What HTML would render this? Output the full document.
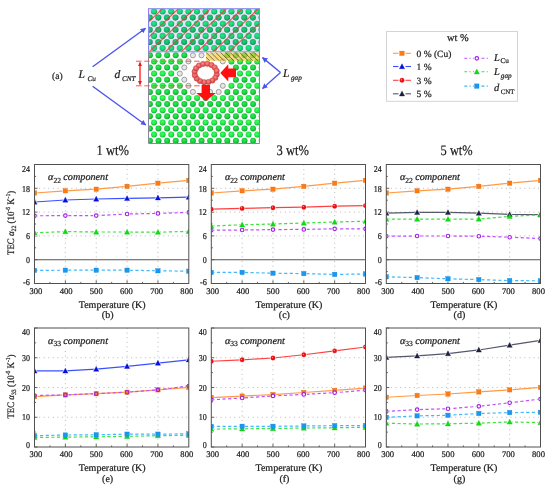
<!DOCTYPE html><html><head><meta charset="utf-8"><style>html,body{margin:0;padding:0;background:#fff;width:550px;height:489px;overflow:hidden;}svg{display:block;will-change:transform;} text{stroke:#222;stroke-width:0.22px;text-rendering:geometricPrecision;}</style></head><body>
<svg width="550" height="489" viewBox="0 0 550 489" font-family='"Liberation Serif", serif' fill="#1a1a1a">
<defs><clipPath id="cf"><rect x="148.5" y="8.7" width="111" height="134.8"/></clipPath><clipPath id="ct"><rect x="148.5" y="8.7" width="111" height="43.1"/></clipPath><radialGradient id="gg" cx="0.45" cy="0.4" r="0.6"><stop offset="0" stop-color="#40ff60"/><stop offset="0.65" stop-color="#1ee844"/><stop offset="1" stop-color="#10a830"/></radialGradient><radialGradient id="gd" cx="0.45" cy="0.4" r="0.6"><stop offset="0" stop-color="#2cec50"/><stop offset="0.65" stop-color="#16cc3c"/><stop offset="1" stop-color="#0c9a2a"/></radialGradient><radialGradient id="gt" cx="0.45" cy="0.4" r="0.6"><stop offset="0" stop-color="#22ea84"/><stop offset="0.65" stop-color="#16d074"/><stop offset="1" stop-color="#0c9452"/></radialGradient><radialGradient id="gt2" cx="0.45" cy="0.4" r="0.6"><stop offset="0" stop-color="#1cd07a"/><stop offset="0.65" stop-color="#12b466"/><stop offset="1" stop-color="#0a8048"/></radialGradient><radialGradient id="gy" cx="0.45" cy="0.4" r="0.6"><stop offset="0" stop-color="#f2f2f2"/><stop offset="0.6" stop-color="#dcdcdc"/><stop offset="0.85" stop-color="#a8a8a8"/><stop offset="1" stop-color="#8a8a8a"/></radialGradient><radialGradient id="gr" cx="0.45" cy="0.4" r="0.6"><stop offset="0" stop-color="#ff8c8c"/><stop offset="0.6" stop-color="#ea5a5a"/><stop offset="1" stop-color="#b83a3a"/></radialGradient><marker id="ab" viewBox="0 0 10 10" refX="9" refY="5" markerWidth="3.9" markerHeight="3.9" orient="auto"><path d="M0 0L10 5L0 10z" fill="#4a55f0"/></marker><marker id="ar" viewBox="0 0 10 10" refX="9" refY="5" markerWidth="3.2" markerHeight="3.6" orient="auto-start-reverse"><path d="M0 0L10 5L0 10z" fill="#ff1010"/></marker></defs>
<g clip-path="url(#cf)">
<rect x="148.5" y="8.7" width="111" height="134.8" fill="#fff"/>
<circle cx="149.9" cy="55.3" r="3" fill="url(#gd)"/><circle cx="158.5" cy="55.3" r="3" fill="url(#gd)"/><circle cx="167.1" cy="55.3" r="3" fill="url(#gd)"/><circle cx="175.7" cy="55.3" r="3" fill="url(#gd)"/><circle cx="184.3" cy="55.3" r="3" fill="url(#gd)"/><circle cx="192.9" cy="55.3" r="2.55" fill="#e6e6e6" stroke="#8c8c8c" stroke-width="0.8"/><circle cx="201.5" cy="55.3" r="2.55" fill="#e6e6e6" stroke="#8c8c8c" stroke-width="0.8"/><circle cx="227.3" cy="55.3" r="3" fill="url(#gd)"/><circle cx="235.9" cy="55.3" r="3" fill="url(#gd)"/><circle cx="244.5" cy="55.3" r="3" fill="url(#gd)"/><circle cx="253.1" cy="55.3" r="3" fill="url(#gd)"/><circle cx="261.7" cy="55.3" r="3" fill="url(#gd)"/><circle cx="154" cy="61.4" r="3" fill="url(#gg)"/><circle cx="162.6" cy="61.4" r="3" fill="url(#gg)"/><circle cx="171.2" cy="61.4" r="3" fill="url(#gg)"/><circle cx="179.8" cy="61.4" r="3" fill="url(#gg)"/><circle cx="188.4" cy="61.4" r="2.55" fill="#e6e6e6" stroke="#8c8c8c" stroke-width="0.8"/><circle cx="222.8" cy="61.4" r="2.55" fill="#e6e6e6" stroke="#8c8c8c" stroke-width="0.8"/><circle cx="231.4" cy="61.4" r="3" fill="url(#gg)"/><circle cx="240" cy="61.4" r="3" fill="url(#gg)"/><circle cx="248.6" cy="61.4" r="3" fill="url(#gg)"/><circle cx="257.2" cy="61.4" r="3" fill="url(#gg)"/><circle cx="265.8" cy="61.4" r="3" fill="url(#gg)"/><circle cx="149.9" cy="67.5" r="3" fill="url(#gd)"/><circle cx="158.5" cy="67.5" r="3" fill="url(#gd)"/><circle cx="167.1" cy="67.5" r="3" fill="url(#gd)"/><circle cx="175.7" cy="67.5" r="3" fill="url(#gd)"/><circle cx="184.3" cy="67.5" r="2.55" fill="#e6e6e6" stroke="#8c8c8c" stroke-width="0.8"/><circle cx="235.9" cy="67.5" r="3" fill="url(#gd)"/><circle cx="244.5" cy="67.5" r="3" fill="url(#gd)"/><circle cx="253.1" cy="67.5" r="3" fill="url(#gd)"/><circle cx="261.7" cy="67.5" r="3" fill="url(#gd)"/><circle cx="154" cy="73.6" r="3" fill="url(#gg)"/><circle cx="162.6" cy="73.6" r="3" fill="url(#gg)"/><circle cx="171.2" cy="73.6" r="3" fill="url(#gg)"/><circle cx="179.8" cy="73.6" r="2.55" fill="#e6e6e6" stroke="#8c8c8c" stroke-width="0.8"/><circle cx="240" cy="73.6" r="3" fill="url(#gg)"/><circle cx="248.6" cy="73.6" r="3" fill="url(#gg)"/><circle cx="257.2" cy="73.6" r="3" fill="url(#gg)"/><circle cx="265.8" cy="73.6" r="3" fill="url(#gg)"/><circle cx="149.9" cy="79.7" r="3" fill="url(#gd)"/><circle cx="158.5" cy="79.7" r="3" fill="url(#gd)"/><circle cx="167.1" cy="79.7" r="3" fill="url(#gd)"/><circle cx="175.7" cy="79.7" r="3" fill="url(#gd)"/><circle cx="184.3" cy="79.7" r="2.55" fill="#e6e6e6" stroke="#8c8c8c" stroke-width="0.8"/><circle cx="235.9" cy="79.7" r="3" fill="url(#gd)"/><circle cx="244.5" cy="79.7" r="3" fill="url(#gd)"/><circle cx="253.1" cy="79.7" r="3" fill="url(#gd)"/><circle cx="261.7" cy="79.7" r="3" fill="url(#gd)"/><circle cx="154" cy="85.8" r="3" fill="url(#gg)"/><circle cx="162.6" cy="85.8" r="3" fill="url(#gg)"/><circle cx="171.2" cy="85.8" r="3" fill="url(#gg)"/><circle cx="179.8" cy="85.8" r="3" fill="url(#gg)"/><circle cx="188.4" cy="85.8" r="2.55" fill="#e6e6e6" stroke="#8c8c8c" stroke-width="0.8"/><circle cx="222.8" cy="85.8" r="2.55" fill="#e6e6e6" stroke="#8c8c8c" stroke-width="0.8"/><circle cx="231.4" cy="85.8" r="3" fill="url(#gg)"/><circle cx="240" cy="85.8" r="3" fill="url(#gg)"/><circle cx="248.6" cy="85.8" r="3" fill="url(#gg)"/><circle cx="257.2" cy="85.8" r="3" fill="url(#gg)"/><circle cx="265.8" cy="85.8" r="3" fill="url(#gg)"/><circle cx="149.9" cy="91.9" r="3" fill="url(#gd)"/><circle cx="158.5" cy="91.9" r="3" fill="url(#gd)"/><circle cx="167.1" cy="91.9" r="3" fill="url(#gd)"/><circle cx="175.7" cy="91.9" r="3" fill="url(#gd)"/><circle cx="184.3" cy="91.9" r="3" fill="url(#gd)"/><circle cx="192.9" cy="91.9" r="2.55" fill="#e6e6e6" stroke="#8c8c8c" stroke-width="0.8"/><circle cx="210.1" cy="91.9" r="2.55" fill="#e6e6e6" stroke="#8c8c8c" stroke-width="0.8"/><circle cx="218.7" cy="91.9" r="2.55" fill="#e6e6e6" stroke="#8c8c8c" stroke-width="0.8"/><circle cx="227.3" cy="91.9" r="3" fill="url(#gd)"/><circle cx="235.9" cy="91.9" r="3" fill="url(#gd)"/><circle cx="244.5" cy="91.9" r="3" fill="url(#gd)"/><circle cx="253.1" cy="91.9" r="3" fill="url(#gd)"/><circle cx="261.7" cy="91.9" r="3" fill="url(#gd)"/><circle cx="154" cy="98" r="3" fill="url(#gg)"/><circle cx="162.6" cy="98" r="3" fill="url(#gg)"/><circle cx="171.2" cy="98" r="3" fill="url(#gg)"/><circle cx="179.8" cy="98" r="3" fill="url(#gg)"/><circle cx="188.4" cy="98" r="3" fill="url(#gg)"/><circle cx="197" cy="98" r="3" fill="url(#gg)"/><circle cx="205.6" cy="98" r="3" fill="url(#gg)"/><circle cx="214.2" cy="98" r="3" fill="url(#gg)"/><circle cx="222.8" cy="98" r="3" fill="url(#gg)"/><circle cx="231.4" cy="98" r="3" fill="url(#gg)"/><circle cx="240" cy="98" r="3" fill="url(#gg)"/><circle cx="248.6" cy="98" r="3" fill="url(#gg)"/><circle cx="257.2" cy="98" r="3" fill="url(#gg)"/><circle cx="265.8" cy="98" r="3" fill="url(#gg)"/><circle cx="149.9" cy="104.1" r="3" fill="url(#gd)"/><circle cx="158.5" cy="104.1" r="3" fill="url(#gd)"/><circle cx="167.1" cy="104.1" r="3" fill="url(#gd)"/><circle cx="175.7" cy="104.1" r="3" fill="url(#gd)"/><circle cx="184.3" cy="104.1" r="3" fill="url(#gd)"/><circle cx="192.9" cy="104.1" r="3" fill="url(#gd)"/><circle cx="201.5" cy="104.1" r="3" fill="url(#gd)"/><circle cx="210.1" cy="104.1" r="3" fill="url(#gd)"/><circle cx="218.7" cy="104.1" r="3" fill="url(#gd)"/><circle cx="227.3" cy="104.1" r="3" fill="url(#gd)"/><circle cx="235.9" cy="104.1" r="3" fill="url(#gd)"/><circle cx="244.5" cy="104.1" r="3" fill="url(#gd)"/><circle cx="253.1" cy="104.1" r="3" fill="url(#gd)"/><circle cx="261.7" cy="104.1" r="3" fill="url(#gd)"/><circle cx="154" cy="110.2" r="3" fill="url(#gg)"/><circle cx="162.6" cy="110.2" r="3" fill="url(#gg)"/><circle cx="171.2" cy="110.2" r="3" fill="url(#gg)"/><circle cx="179.8" cy="110.2" r="3" fill="url(#gg)"/><circle cx="188.4" cy="110.2" r="3" fill="url(#gg)"/><circle cx="197" cy="110.2" r="3" fill="url(#gg)"/><circle cx="205.6" cy="110.2" r="3" fill="url(#gg)"/><circle cx="214.2" cy="110.2" r="3" fill="url(#gg)"/><circle cx="222.8" cy="110.2" r="3" fill="url(#gg)"/><circle cx="231.4" cy="110.2" r="3" fill="url(#gg)"/><circle cx="240" cy="110.2" r="3" fill="url(#gg)"/><circle cx="248.6" cy="110.2" r="3" fill="url(#gg)"/><circle cx="257.2" cy="110.2" r="3" fill="url(#gg)"/><circle cx="265.8" cy="110.2" r="3" fill="url(#gg)"/><circle cx="149.9" cy="116.3" r="3" fill="url(#gd)"/><circle cx="158.5" cy="116.3" r="3" fill="url(#gd)"/><circle cx="167.1" cy="116.3" r="3" fill="url(#gd)"/><circle cx="175.7" cy="116.3" r="3" fill="url(#gd)"/><circle cx="184.3" cy="116.3" r="3" fill="url(#gd)"/><circle cx="192.9" cy="116.3" r="3" fill="url(#gd)"/><circle cx="201.5" cy="116.3" r="3" fill="url(#gd)"/><circle cx="210.1" cy="116.3" r="3" fill="url(#gd)"/><circle cx="218.7" cy="116.3" r="3" fill="url(#gd)"/><circle cx="227.3" cy="116.3" r="3" fill="url(#gd)"/><circle cx="235.9" cy="116.3" r="3" fill="url(#gd)"/><circle cx="244.5" cy="116.3" r="3" fill="url(#gd)"/><circle cx="253.1" cy="116.3" r="3" fill="url(#gd)"/><circle cx="261.7" cy="116.3" r="3" fill="url(#gd)"/><circle cx="154" cy="122.4" r="3" fill="url(#gg)"/><circle cx="162.6" cy="122.4" r="3" fill="url(#gg)"/><circle cx="171.2" cy="122.4" r="3" fill="url(#gg)"/><circle cx="179.8" cy="122.4" r="3" fill="url(#gg)"/><circle cx="188.4" cy="122.4" r="3" fill="url(#gg)"/><circle cx="197" cy="122.4" r="3" fill="url(#gg)"/><circle cx="205.6" cy="122.4" r="3" fill="url(#gg)"/><circle cx="214.2" cy="122.4" r="3" fill="url(#gg)"/><circle cx="222.8" cy="122.4" r="3" fill="url(#gg)"/><circle cx="231.4" cy="122.4" r="3" fill="url(#gg)"/><circle cx="240" cy="122.4" r="3" fill="url(#gg)"/><circle cx="248.6" cy="122.4" r="3" fill="url(#gg)"/><circle cx="257.2" cy="122.4" r="3" fill="url(#gg)"/><circle cx="265.8" cy="122.4" r="3" fill="url(#gg)"/><circle cx="149.9" cy="128.5" r="3" fill="url(#gd)"/><circle cx="158.5" cy="128.5" r="3" fill="url(#gd)"/><circle cx="167.1" cy="128.5" r="3" fill="url(#gd)"/><circle cx="175.7" cy="128.5" r="3" fill="url(#gd)"/><circle cx="184.3" cy="128.5" r="3" fill="url(#gd)"/><circle cx="192.9" cy="128.5" r="3" fill="url(#gd)"/><circle cx="201.5" cy="128.5" r="3" fill="url(#gd)"/><circle cx="210.1" cy="128.5" r="3" fill="url(#gd)"/><circle cx="218.7" cy="128.5" r="3" fill="url(#gd)"/><circle cx="227.3" cy="128.5" r="3" fill="url(#gd)"/><circle cx="235.9" cy="128.5" r="3" fill="url(#gd)"/><circle cx="244.5" cy="128.5" r="3" fill="url(#gd)"/><circle cx="253.1" cy="128.5" r="3" fill="url(#gd)"/><circle cx="261.7" cy="128.5" r="3" fill="url(#gd)"/><circle cx="154" cy="134.6" r="3" fill="url(#gg)"/><circle cx="162.6" cy="134.6" r="3" fill="url(#gg)"/><circle cx="171.2" cy="134.6" r="3" fill="url(#gg)"/><circle cx="179.8" cy="134.6" r="3" fill="url(#gg)"/><circle cx="188.4" cy="134.6" r="3" fill="url(#gg)"/><circle cx="197" cy="134.6" r="3" fill="url(#gg)"/><circle cx="205.6" cy="134.6" r="3" fill="url(#gg)"/><circle cx="214.2" cy="134.6" r="3" fill="url(#gg)"/><circle cx="222.8" cy="134.6" r="3" fill="url(#gg)"/><circle cx="231.4" cy="134.6" r="3" fill="url(#gg)"/><circle cx="240" cy="134.6" r="3" fill="url(#gg)"/><circle cx="248.6" cy="134.6" r="3" fill="url(#gg)"/><circle cx="257.2" cy="134.6" r="3" fill="url(#gg)"/><circle cx="265.8" cy="134.6" r="3" fill="url(#gg)"/><circle cx="149.9" cy="140.7" r="3" fill="url(#gd)"/><circle cx="158.5" cy="140.7" r="3" fill="url(#gd)"/><circle cx="167.1" cy="140.7" r="3" fill="url(#gd)"/><circle cx="175.7" cy="140.7" r="3" fill="url(#gd)"/><circle cx="184.3" cy="140.7" r="3" fill="url(#gd)"/><circle cx="192.9" cy="140.7" r="3" fill="url(#gd)"/><circle cx="201.5" cy="140.7" r="3" fill="url(#gd)"/><circle cx="210.1" cy="140.7" r="3" fill="url(#gd)"/><circle cx="218.7" cy="140.7" r="3" fill="url(#gd)"/><circle cx="227.3" cy="140.7" r="3" fill="url(#gd)"/><circle cx="235.9" cy="140.7" r="3" fill="url(#gd)"/><circle cx="244.5" cy="140.7" r="3" fill="url(#gd)"/><circle cx="253.1" cy="140.7" r="3" fill="url(#gd)"/><circle cx="261.7" cy="140.7" r="3" fill="url(#gd)"/>
</g>
<g clip-path="url(#ct)">
<rect x="148.5" y="8.7" width="111" height="43.1" fill="#e8e2fa"/>
<circle cx="145.4" cy="11.5" r="3.05" fill="url(#gt)"/><circle cx="154" cy="11.5" r="3.05" fill="url(#gt)"/><circle cx="162.6" cy="11.5" r="3.05" fill="url(#gt)"/><circle cx="171.2" cy="11.5" r="3.05" fill="url(#gt)"/><circle cx="179.8" cy="11.5" r="3.05" fill="url(#gt)"/><circle cx="188.4" cy="11.5" r="3.05" fill="url(#gt)"/><circle cx="197" cy="11.5" r="3.05" fill="url(#gt)"/><circle cx="205.6" cy="11.5" r="3.05" fill="url(#gt)"/><circle cx="214.2" cy="11.5" r="3.05" fill="url(#gt)"/><circle cx="222.8" cy="11.5" r="3.05" fill="url(#gt)"/><circle cx="231.4" cy="11.5" r="3.05" fill="url(#gt)"/><circle cx="240" cy="11.5" r="3.05" fill="url(#gt)"/><circle cx="248.6" cy="11.5" r="3.05" fill="url(#gt)"/><circle cx="257.2" cy="11.5" r="3.05" fill="url(#gt)"/><circle cx="265.8" cy="11.5" r="3.05" fill="url(#gt)"/><circle cx="141.1" cy="17.6" r="3.05" fill="url(#gt2)"/><circle cx="149.7" cy="17.6" r="3.05" fill="url(#gt2)"/><circle cx="158.3" cy="17.6" r="3.05" fill="url(#gt2)"/><circle cx="166.9" cy="17.6" r="3.05" fill="url(#gt2)"/><circle cx="175.5" cy="17.6" r="3.05" fill="url(#gt2)"/><circle cx="184.1" cy="17.6" r="3.05" fill="url(#gt2)"/><circle cx="192.7" cy="17.6" r="3.05" fill="url(#gt2)"/><circle cx="201.3" cy="17.6" r="3.05" fill="url(#gt2)"/><circle cx="209.9" cy="17.6" r="3.05" fill="url(#gt2)"/><circle cx="218.5" cy="17.6" r="3.05" fill="url(#gt2)"/><circle cx="227.1" cy="17.6" r="3.05" fill="url(#gt2)"/><circle cx="235.7" cy="17.6" r="3.05" fill="url(#gt2)"/><circle cx="244.3" cy="17.6" r="3.05" fill="url(#gt2)"/><circle cx="252.9" cy="17.6" r="3.05" fill="url(#gt2)"/><circle cx="261.5" cy="17.6" r="3.05" fill="url(#gt2)"/><circle cx="145.4" cy="23.7" r="3.05" fill="url(#gt)"/><circle cx="154" cy="23.7" r="3.05" fill="url(#gt)"/><circle cx="162.6" cy="23.7" r="3.05" fill="url(#gt)"/><circle cx="171.2" cy="23.7" r="3.05" fill="url(#gt)"/><circle cx="179.8" cy="23.7" r="3.05" fill="url(#gt)"/><circle cx="188.4" cy="23.7" r="3.05" fill="url(#gt)"/><circle cx="197" cy="23.7" r="3.05" fill="url(#gt)"/><circle cx="205.6" cy="23.7" r="3.05" fill="url(#gt)"/><circle cx="214.2" cy="23.7" r="3.05" fill="url(#gt)"/><circle cx="222.8" cy="23.7" r="3.05" fill="url(#gt)"/><circle cx="231.4" cy="23.7" r="3.05" fill="url(#gt)"/><circle cx="240" cy="23.7" r="3.05" fill="url(#gt)"/><circle cx="248.6" cy="23.7" r="3.05" fill="url(#gt)"/><circle cx="257.2" cy="23.7" r="3.05" fill="url(#gt)"/><circle cx="265.8" cy="23.7" r="3.05" fill="url(#gt)"/><circle cx="141.1" cy="29.8" r="3.05" fill="url(#gt2)"/><circle cx="149.7" cy="29.8" r="3.05" fill="url(#gt2)"/><circle cx="158.3" cy="29.8" r="3.05" fill="url(#gt2)"/><circle cx="166.9" cy="29.8" r="3.05" fill="url(#gt2)"/><circle cx="175.5" cy="29.8" r="3.05" fill="url(#gt2)"/><circle cx="184.1" cy="29.8" r="3.05" fill="url(#gt2)"/><circle cx="192.7" cy="29.8" r="3.05" fill="url(#gt2)"/><circle cx="201.3" cy="29.8" r="3.05" fill="url(#gt2)"/><circle cx="209.9" cy="29.8" r="3.05" fill="url(#gt2)"/><circle cx="218.5" cy="29.8" r="3.05" fill="url(#gt2)"/><circle cx="227.1" cy="29.8" r="3.05" fill="url(#gt2)"/><circle cx="235.7" cy="29.8" r="3.05" fill="url(#gt2)"/><circle cx="244.3" cy="29.8" r="3.05" fill="url(#gt2)"/><circle cx="252.9" cy="29.8" r="3.05" fill="url(#gt2)"/><circle cx="261.5" cy="29.8" r="3.05" fill="url(#gt2)"/><circle cx="145.4" cy="35.9" r="3.05" fill="url(#gt)"/><circle cx="154" cy="35.9" r="3.05" fill="url(#gt)"/><circle cx="162.6" cy="35.9" r="3.05" fill="url(#gt)"/><circle cx="171.2" cy="35.9" r="3.05" fill="url(#gt)"/><circle cx="179.8" cy="35.9" r="3.05" fill="url(#gt)"/><circle cx="188.4" cy="35.9" r="3.05" fill="url(#gt)"/><circle cx="197" cy="35.9" r="3.05" fill="url(#gt)"/><circle cx="205.6" cy="35.9" r="3.05" fill="url(#gt)"/><circle cx="214.2" cy="35.9" r="3.05" fill="url(#gt)"/><circle cx="222.8" cy="35.9" r="3.05" fill="url(#gt)"/><circle cx="231.4" cy="35.9" r="3.05" fill="url(#gt)"/><circle cx="240" cy="35.9" r="3.05" fill="url(#gt)"/><circle cx="248.6" cy="35.9" r="3.05" fill="url(#gt)"/><circle cx="257.2" cy="35.9" r="3.05" fill="url(#gt)"/><circle cx="265.8" cy="35.9" r="3.05" fill="url(#gt)"/><circle cx="141.1" cy="42" r="3.05" fill="url(#gt2)"/><circle cx="149.7" cy="42" r="3.05" fill="url(#gt2)"/><circle cx="158.3" cy="42" r="3.05" fill="url(#gt2)"/><circle cx="166.9" cy="42" r="3.05" fill="url(#gt2)"/><circle cx="175.5" cy="42" r="3.05" fill="url(#gt2)"/><circle cx="184.1" cy="42" r="3.05" fill="url(#gt2)"/><circle cx="192.7" cy="42" r="3.05" fill="url(#gt2)"/><circle cx="201.3" cy="42" r="3.05" fill="url(#gt2)"/><circle cx="209.9" cy="42" r="3.05" fill="url(#gt2)"/><circle cx="218.5" cy="42" r="3.05" fill="url(#gt2)"/><circle cx="227.1" cy="42" r="3.05" fill="url(#gt2)"/><circle cx="235.7" cy="42" r="3.05" fill="url(#gt2)"/><circle cx="244.3" cy="42" r="3.05" fill="url(#gt2)"/><circle cx="252.9" cy="42" r="3.05" fill="url(#gt2)"/><circle cx="261.5" cy="42" r="3.05" fill="url(#gt2)"/><circle cx="145.4" cy="48.1" r="3.05" fill="url(#gt)"/><circle cx="154" cy="48.1" r="3.05" fill="url(#gt)"/><circle cx="162.6" cy="48.1" r="3.05" fill="url(#gt)"/><circle cx="171.2" cy="48.1" r="3.05" fill="url(#gt)"/><circle cx="179.8" cy="48.1" r="3.05" fill="url(#gt)"/><circle cx="188.4" cy="48.1" r="3.05" fill="url(#gt)"/><circle cx="197" cy="48.1" r="3.05" fill="url(#gt)"/><circle cx="205.6" cy="48.1" r="3.05" fill="url(#gt)"/><circle cx="214.2" cy="48.1" r="3.05" fill="url(#gt)"/><circle cx="222.8" cy="48.1" r="3.05" fill="url(#gt)"/><circle cx="231.4" cy="48.1" r="3.05" fill="url(#gt)"/><circle cx="240" cy="48.1" r="3.05" fill="url(#gt)"/><circle cx="248.6" cy="48.1" r="3.05" fill="url(#gt)"/><circle cx="257.2" cy="48.1" r="3.05" fill="url(#gt)"/><circle cx="265.8" cy="48.1" r="3.05" fill="url(#gt)"/>
<path d="M149.5 5.7l-53 50.75 M165.5 5.7l-53 50.75 M181.5 5.7l-53 50.75 M197.5 5.7l-53 50.75 M213.5 5.7l-53 50.75 M229.5 5.7l-53 50.75 M245.5 5.7l-53 50.75 M261.5 5.7l-53 50.75 M277.5 5.7l-53 50.75" stroke="#f03828" stroke-opacity="0.8" stroke-width="1.1" fill="none"/>
</g>
<rect x="148.5" y="8.7" width="111" height="43.1" fill="none" stroke="#8686ea" stroke-width="1"/>
<rect x="206" y="52.6" width="53.5" height="8.2" fill="#f2c830" fill-opacity="0.62"/>
<g><clipPath id="cg"><rect x="206" y="52.6" width="53.5" height="8.2"/></clipPath></g>
<path clip-path="url(#cg)" d="M201 52.1l9 9 M205.8 52.1l9 9 M210.6 52.1l9 9 M215.4 52.1l9 9 M220.2 52.1l9 9 M225 52.1l9 9 M229.8 52.1l9 9 M234.6 52.1l9 9 M239.4 52.1l9 9 M244.2 52.1l9 9 M249 52.1l9 9 M253.8 52.1l9 9 M258.6 52.1l9 9 M263.4 52.1l9 9" stroke="#3a3020" stroke-width="0.65" fill="none"/>
<path d="M148.5 51.8V143.5H259.5V51.8" fill="none" stroke="#8a889e" stroke-width="1"/>
<path d="M136 61.2H200M136 85.8H200" stroke="#ff5050" stroke-width="1" stroke-dasharray="5.5 2.8" fill="none"/>
<line x1="140" y1="62.5" x2="140" y2="84.5" stroke="#ff1010" stroke-width="1.3" marker-start="url(#ar)" marker-end="url(#ar)"/>
<circle cx="216.77" cy="74.39" r="2.75" fill="url(#gr)" stroke="#c04848" stroke-width="0.35"/><circle cx="215.29" cy="77.8" r="2.75" fill="url(#gr)" stroke="#c04848" stroke-width="0.35"/><circle cx="212.35" cy="80.48" r="2.75" fill="url(#gr)" stroke="#c04848" stroke-width="0.35"/><circle cx="208.39" cy="82.03" r="2.75" fill="url(#gr)" stroke="#c04848" stroke-width="0.35"/><circle cx="204.03" cy="82.2" r="2.75" fill="url(#gr)" stroke="#c04848" stroke-width="0.35"/><circle cx="199.92" cy="80.96" r="2.75" fill="url(#gr)" stroke="#c04848" stroke-width="0.35"/><circle cx="196.69" cy="78.52" r="2.75" fill="url(#gr)" stroke="#c04848" stroke-width="0.35"/><circle cx="194.83" cy="75.24" r="2.75" fill="url(#gr)" stroke="#c04848" stroke-width="0.35"/><circle cx="194.63" cy="71.61" r="2.75" fill="url(#gr)" stroke="#c04848" stroke-width="0.35"/><circle cx="196.11" cy="68.2" r="2.75" fill="url(#gr)" stroke="#c04848" stroke-width="0.35"/><circle cx="199.05" cy="65.52" r="2.75" fill="url(#gr)" stroke="#c04848" stroke-width="0.35"/><circle cx="203.01" cy="63.97" r="2.75" fill="url(#gr)" stroke="#c04848" stroke-width="0.35"/><circle cx="207.37" cy="63.8" r="2.75" fill="url(#gr)" stroke="#c04848" stroke-width="0.35"/><circle cx="211.48" cy="65.04" r="2.75" fill="url(#gr)" stroke="#c04848" stroke-width="0.35"/><circle cx="214.71" cy="67.48" r="2.75" fill="url(#gr)" stroke="#c04848" stroke-width="0.35"/><circle cx="216.57" cy="70.76" r="2.75" fill="url(#gr)" stroke="#c04848" stroke-width="0.35"/>
<path d="M220.3 72.9L228.3 64.3V68.6H236V77.2H228.3V81.6Z" fill="#ff1010"/>
<path d="M201.6 85H210V93H215.9L205.8 100.9L196.3 93H201.6Z" fill="#ff1010"/>
<g stroke="#4a55f0" stroke-width="1.4" fill="none"><line x1="92.6" y1="66.7" x2="145.6" y2="28.3" marker-end="url(#ab)"/><line x1="92.6" y1="86.3" x2="145.8" y2="125" marker-end="url(#ab)"/><line x1="280.5" y1="72.5" x2="262.5" y2="57.6" marker-end="url(#ab)"/><line x1="280.5" y1="72.5" x2="262.5" y2="88.6" marker-end="url(#ab)"/></g>
<text x="52" y="78.5" font-size="9.5">(a)</text>
<text x="78.5" y="77.5" font-size="11.5" font-style="italic">L</text><text x="87.5" y="80.5" font-size="7.2" font-style="italic">Cu</text>
<text x="114.5" y="77.5" font-size="11.5" font-style="italic">d</text><text x="122" y="80.5" font-size="7.2" font-style="italic">CNT</text>
<text x="283" y="77" font-size="11.5" font-style="italic">L</text><text x="291" y="80" font-size="7.2" font-style="italic">gap</text>
<rect x="386.5" y="31.5" width="131" height="69.8" fill="#fff" stroke="#d4d4d4" stroke-width="1"/>
<text x="457.8" y="40.9" font-size="10.4" text-anchor="middle">wt %</text>
<line x1="393" y1="53.3" x2="411" y2="53.3" stroke="#ff9a45" stroke-width="1.1"/>
<rect x="398.5" y="49.8" width="7" height="7" fill="#fff"/>
<rect x="399.8" y="51.1" width="4.4" height="4.4" fill="#fff" stroke="#fff" stroke-width="1.3"/><rect x="399.8" y="51.1" width="4.4" height="4.4" fill="#ff7a10" stroke="#e06000" stroke-width="0.35"/>
<text x="416.5" y="56.6" font-size="9.5">0 % (Cu)</text>
<line x1="393" y1="66.5" x2="411" y2="66.5" stroke="#3a50ff" stroke-width="1.1"/>
<rect x="398.5" y="63" width="7" height="7" fill="#fff"/>
<polygon points="402,63.75 399.4,68.65 404.6,68.65" fill="#fff" stroke="#fff" stroke-width="1.5" stroke-linejoin="round"/><polygon points="402,63.75 399.4,68.65 404.6,68.65" fill="#0010e8" stroke="#0000c0" stroke-width="0.35" stroke-linejoin="round"/>
<text x="416.5" y="69.8" font-size="9.5">1 %</text>
<line x1="393" y1="80.3" x2="411" y2="80.3" stroke="#ff4040" stroke-width="1.1"/>
<rect x="398.5" y="76.8" width="7" height="7" fill="#fff"/>
<circle cx="402" cy="80.3" r="2.9" fill="#fff"/><circle cx="402" cy="80.3" r="2.2" fill="#f01010" stroke="#d00000" stroke-width="0.35"/><circle cx="401.4" cy="79.7" r="0.5" fill="#ffe0e0"/>
<text x="416.5" y="83.6" font-size="9.5">3 %</text>
<line x1="393" y1="93.8" x2="411" y2="93.8" stroke="#55586a" stroke-width="1.1"/>
<rect x="398.5" y="90.3" width="7" height="7" fill="#fff"/>
<polygon points="402,91.05 399.4,95.95 404.6,95.95" fill="#fff" stroke="#fff" stroke-width="1.5" stroke-linejoin="round"/><polygon points="402,91.05 399.4,95.95 404.6,95.95" fill="#1c2048" stroke="#10142e" stroke-width="0.35" stroke-linejoin="round"/>
<text x="416.5" y="97.1" font-size="9.5">5 %</text>
<line x1="464.3" y1="58.3" x2="490" y2="58.3" stroke="#c050ff" stroke-width="1.1" stroke-dasharray="3 2.2 1.2 2.2"/>
<circle cx="476.8" cy="58.3" r="2.6" fill="#fff"/>
<circle cx="476.8" cy="58.3" r="2.95" fill="#fff"/><circle cx="476.8" cy="58.3" r="1.75" fill="#fff" stroke="#a020e8" stroke-width="1.15"/>
<line x1="464.3" y1="71.8" x2="490" y2="71.8" stroke="#40e040" stroke-width="1.1" stroke-dasharray="3 2.2 1.2 2.2"/>
<circle cx="476.8" cy="71.8" r="2.6" fill="#fff"/>
<polygon points="476.8,69.05 474.2,73.95 479.4,73.95" fill="#fff" stroke="#fff" stroke-width="1.5" stroke-linejoin="round"/><polygon points="476.8,69.05 474.2,73.95 479.4,73.95" fill="#10dd10" stroke="#00bb00" stroke-width="0.35" stroke-linejoin="round"/>
<line x1="464.3" y1="86.1" x2="490" y2="86.1" stroke="#40b8ff" stroke-width="1.1" stroke-dasharray="3 2.2 1.2 2.2"/>
<circle cx="476.8" cy="86.1" r="2.6" fill="#fff"/>
<rect x="474.6" y="83.9" width="4.4" height="4.4" fill="#fff" stroke="#fff" stroke-width="1.3"/><rect x="474.6" y="83.9" width="4.4" height="4.4" fill="#1898f0" stroke="#0a80d8" stroke-width="0.35"/>
<text x="494" y="60.5" font-size="10.5" font-style="italic">L</text><text x="500.5" y="63.2" font-size="7.2">Cu</text>
<text x="494" y="74.8" font-size="10.5" font-style="italic">L</text><text x="500.8" y="77.6" font-size="7.2" font-style="italic">gap</text>
<text x="494" y="90.8" font-size="10.5" font-style="italic">d</text><text x="500.8" y="94.2" font-size="6.8">CNT</text>
<text x="96.6" y="154.7" font-size="14.5" textLength="32.4" lengthAdjust="spacingAndGlyphs">1 wt%</text>
<text x="276.6" y="154.7" font-size="14.5" textLength="32.4" lengthAdjust="spacingAndGlyphs">3 wt%</text>
<text x="440.6" y="154.7" font-size="14.5" textLength="32" lengthAdjust="spacingAndGlyphs">5 wt%</text>
<text transform="translate(13.8 222.9) rotate(-90) scale(0.9 1)" font-size="9.8" text-anchor="middle">TEC <tspan font-style="italic">&#945;</tspan><tspan font-size="6.5" dy="2">22</tspan><tspan dy="-2"> (10</tspan><tspan font-size="6.2" dy="-3.5">-6</tspan><tspan dy="3.5"> K</tspan><tspan font-size="6.2" dy="-3.5">-1</tspan><tspan dy="3.5">)</tspan></text>
<text transform="translate(13.8 386.5) rotate(-90) scale(0.9 1)" font-size="9.8" text-anchor="middle">TEC <tspan font-style="italic">&#945;</tspan><tspan font-size="6.5" dy="2">33</tspan><tspan dy="-2"> (10</tspan><tspan font-size="6.2" dy="-3.5">-6</tspan><tspan dy="3.5"> K</tspan><tspan font-size="6.2" dy="-3.5">-1</tspan><tspan dy="3.5">)</tspan></text>
<g stroke="#b0b0b0" stroke-width="0.9" stroke-dasharray="1 3.6"><line x1="65.36" y1="164.5" x2="65.36" y2="283.5"/><line x1="96.22" y1="164.5" x2="96.22" y2="283.5"/><line x1="127.08" y1="164.5" x2="127.08" y2="283.5"/><line x1="157.94" y1="164.5" x2="157.94" y2="283.5"/><line x1="34.5" y1="235.9" x2="188.8" y2="235.9"/><line x1="34.5" y1="212.1" x2="188.8" y2="212.1"/><line x1="34.5" y1="188.3" x2="188.8" y2="188.3"/></g>
<rect x="35" y="165" width="78" height="21" fill="#fff"/>
<line x1="34.5" y1="259.7" x2="188.8" y2="259.7" stroke="#555" stroke-width="1.1"/>
<path d="M34.5 283.5h3 M34.5 271.6h1.6 M34.5 259.7h3 M34.5 247.8h1.6 M34.5 235.9h3 M34.5 224h1.6 M34.5 212.1h3 M34.5 200.2h1.6 M34.5 188.3h3 M34.5 176.4h1.6 M34.5 164.5h3 M65.36 283.5v-3 M96.22 283.5v-3 M127.08 283.5v-3 M157.94 283.5v-3 M49.93 283.5v-1.6 M80.79 283.5v-1.6 M111.65 283.5v-1.6 M142.51 283.5v-1.6 M173.37 283.5v-1.6" stroke="#555" stroke-width="0.9" fill="none"/>
<clipPath id="cpb"><rect x="34.5" y="164.5" width="154.3" height="119"/></clipPath><g clip-path="url(#cpb)">
<polyline points="34.5,193 65.36,190.8 96.22,189.2 127.08,186.4 157.94,183.2 188.8,180.4" fill="none" stroke="#ff9a45" stroke-width="1.2"/>
<polyline points="34.5,202 65.36,200 96.22,199 127.08,198.4 157.94,197.8 188.8,197.2" fill="none" stroke="#3a50ff" stroke-width="1.2"/>
<polyline points="34.5,215.8 65.36,215.6 96.22,215.6 127.08,214 157.94,213.4 188.8,212.4" fill="none" stroke="#c050ff" stroke-width="1.2" stroke-dasharray="3.2 2.4"/>
<polyline points="34.5,232.8 65.36,231.6 96.22,232 127.08,232 157.94,232.2 188.8,231.4" fill="none" stroke="#40e040" stroke-width="1.2" stroke-dasharray="3.2 2.4"/>
<polyline points="34.5,270.4 65.36,270.2 96.22,270.2 127.08,270.2 157.94,270.8 188.8,271.2" fill="none" stroke="#40b8ff" stroke-width="1.2" stroke-dasharray="3.2 2.4"/>
<rect x="32.3" y="190.8" width="4.4" height="4.4" fill="#fff" stroke="#fff" stroke-width="1.3"/><rect x="63.16" y="188.6" width="4.4" height="4.4" fill="#fff" stroke="#fff" stroke-width="1.3"/><rect x="94.02" y="187" width="4.4" height="4.4" fill="#fff" stroke="#fff" stroke-width="1.3"/><rect x="124.88" y="184.2" width="4.4" height="4.4" fill="#fff" stroke="#fff" stroke-width="1.3"/><rect x="155.74" y="181" width="4.4" height="4.4" fill="#fff" stroke="#fff" stroke-width="1.3"/><rect x="186.6" y="178.2" width="4.4" height="4.4" fill="#fff" stroke="#fff" stroke-width="1.3"/>
<polygon points="34.5,199.25 31.9,204.15 37.1,204.15" fill="#fff" stroke="#fff" stroke-width="1.5" stroke-linejoin="round"/><polygon points="65.36,197.25 62.76,202.15 67.96,202.15" fill="#fff" stroke="#fff" stroke-width="1.5" stroke-linejoin="round"/><polygon points="96.22,196.25 93.62,201.15 98.82,201.15" fill="#fff" stroke="#fff" stroke-width="1.5" stroke-linejoin="round"/><polygon points="127.08,195.65 124.48,200.55 129.68,200.55" fill="#fff" stroke="#fff" stroke-width="1.5" stroke-linejoin="round"/><polygon points="157.94,195.05 155.34,199.95 160.54,199.95" fill="#fff" stroke="#fff" stroke-width="1.5" stroke-linejoin="round"/><polygon points="188.8,194.45 186.2,199.35 191.4,199.35" fill="#fff" stroke="#fff" stroke-width="1.5" stroke-linejoin="round"/>
<circle cx="34.5" cy="215.8" r="2.95" fill="#fff"/><circle cx="65.36" cy="215.6" r="2.95" fill="#fff"/><circle cx="96.22" cy="215.6" r="2.95" fill="#fff"/><circle cx="127.08" cy="214" r="2.95" fill="#fff"/><circle cx="157.94" cy="213.4" r="2.95" fill="#fff"/><circle cx="188.8" cy="212.4" r="2.95" fill="#fff"/>
<polygon points="34.5,230.05 31.9,234.95 37.1,234.95" fill="#fff" stroke="#fff" stroke-width="1.5" stroke-linejoin="round"/><polygon points="65.36,228.85 62.76,233.75 67.96,233.75" fill="#fff" stroke="#fff" stroke-width="1.5" stroke-linejoin="round"/><polygon points="96.22,229.25 93.62,234.15 98.82,234.15" fill="#fff" stroke="#fff" stroke-width="1.5" stroke-linejoin="round"/><polygon points="127.08,229.25 124.48,234.15 129.68,234.15" fill="#fff" stroke="#fff" stroke-width="1.5" stroke-linejoin="round"/><polygon points="157.94,229.45 155.34,234.35 160.54,234.35" fill="#fff" stroke="#fff" stroke-width="1.5" stroke-linejoin="round"/><polygon points="188.8,228.65 186.2,233.55 191.4,233.55" fill="#fff" stroke="#fff" stroke-width="1.5" stroke-linejoin="round"/>
<rect x="32.3" y="268.2" width="4.4" height="4.4" fill="#fff" stroke="#fff" stroke-width="1.3"/><rect x="63.16" y="268" width="4.4" height="4.4" fill="#fff" stroke="#fff" stroke-width="1.3"/><rect x="94.02" y="268" width="4.4" height="4.4" fill="#fff" stroke="#fff" stroke-width="1.3"/><rect x="124.88" y="268" width="4.4" height="4.4" fill="#fff" stroke="#fff" stroke-width="1.3"/><rect x="155.74" y="268.6" width="4.4" height="4.4" fill="#fff" stroke="#fff" stroke-width="1.3"/><rect x="186.6" y="269" width="4.4" height="4.4" fill="#fff" stroke="#fff" stroke-width="1.3"/>
<rect x="32.3" y="190.8" width="4.4" height="4.4" fill="#ff7a10" stroke="#e06000" stroke-width="0.35"/><rect x="63.16" y="188.6" width="4.4" height="4.4" fill="#ff7a10" stroke="#e06000" stroke-width="0.35"/><rect x="94.02" y="187" width="4.4" height="4.4" fill="#ff7a10" stroke="#e06000" stroke-width="0.35"/><rect x="124.88" y="184.2" width="4.4" height="4.4" fill="#ff7a10" stroke="#e06000" stroke-width="0.35"/><rect x="155.74" y="181" width="4.4" height="4.4" fill="#ff7a10" stroke="#e06000" stroke-width="0.35"/><rect x="186.6" y="178.2" width="4.4" height="4.4" fill="#ff7a10" stroke="#e06000" stroke-width="0.35"/>
<polygon points="34.5,199.25 31.9,204.15 37.1,204.15" fill="#0010e8" stroke="#0000c0" stroke-width="0.35" stroke-linejoin="round"/><polygon points="65.36,197.25 62.76,202.15 67.96,202.15" fill="#0010e8" stroke="#0000c0" stroke-width="0.35" stroke-linejoin="round"/><polygon points="96.22,196.25 93.62,201.15 98.82,201.15" fill="#0010e8" stroke="#0000c0" stroke-width="0.35" stroke-linejoin="round"/><polygon points="127.08,195.65 124.48,200.55 129.68,200.55" fill="#0010e8" stroke="#0000c0" stroke-width="0.35" stroke-linejoin="round"/><polygon points="157.94,195.05 155.34,199.95 160.54,199.95" fill="#0010e8" stroke="#0000c0" stroke-width="0.35" stroke-linejoin="round"/><polygon points="188.8,194.45 186.2,199.35 191.4,199.35" fill="#0010e8" stroke="#0000c0" stroke-width="0.35" stroke-linejoin="round"/>
<circle cx="34.5" cy="215.8" r="1.75" fill="#fff" stroke="#a020e8" stroke-width="1.15"/><circle cx="65.36" cy="215.6" r="1.75" fill="#fff" stroke="#a020e8" stroke-width="1.15"/><circle cx="96.22" cy="215.6" r="1.75" fill="#fff" stroke="#a020e8" stroke-width="1.15"/><circle cx="127.08" cy="214" r="1.75" fill="#fff" stroke="#a020e8" stroke-width="1.15"/><circle cx="157.94" cy="213.4" r="1.75" fill="#fff" stroke="#a020e8" stroke-width="1.15"/><circle cx="188.8" cy="212.4" r="1.75" fill="#fff" stroke="#a020e8" stroke-width="1.15"/>
<polygon points="34.5,230.05 31.9,234.95 37.1,234.95" fill="#10dd10" stroke="#00bb00" stroke-width="0.35" stroke-linejoin="round"/><polygon points="65.36,228.85 62.76,233.75 67.96,233.75" fill="#10dd10" stroke="#00bb00" stroke-width="0.35" stroke-linejoin="round"/><polygon points="96.22,229.25 93.62,234.15 98.82,234.15" fill="#10dd10" stroke="#00bb00" stroke-width="0.35" stroke-linejoin="round"/><polygon points="127.08,229.25 124.48,234.15 129.68,234.15" fill="#10dd10" stroke="#00bb00" stroke-width="0.35" stroke-linejoin="round"/><polygon points="157.94,229.45 155.34,234.35 160.54,234.35" fill="#10dd10" stroke="#00bb00" stroke-width="0.35" stroke-linejoin="round"/><polygon points="188.8,228.65 186.2,233.55 191.4,233.55" fill="#10dd10" stroke="#00bb00" stroke-width="0.35" stroke-linejoin="round"/>
<rect x="32.3" y="268.2" width="4.4" height="4.4" fill="#1898f0" stroke="#0a80d8" stroke-width="0.35"/><rect x="63.16" y="268" width="4.4" height="4.4" fill="#1898f0" stroke="#0a80d8" stroke-width="0.35"/><rect x="94.02" y="268" width="4.4" height="4.4" fill="#1898f0" stroke="#0a80d8" stroke-width="0.35"/><rect x="124.88" y="268" width="4.4" height="4.4" fill="#1898f0" stroke="#0a80d8" stroke-width="0.35"/><rect x="155.74" y="268.6" width="4.4" height="4.4" fill="#1898f0" stroke="#0a80d8" stroke-width="0.35"/><rect x="186.6" y="269" width="4.4" height="4.4" fill="#1898f0" stroke="#0a80d8" stroke-width="0.35"/>
</g>
<rect x="34.5" y="164.5" width="154.3" height="119" fill="none" stroke="#505050" stroke-width="1"/>
<text x="48.1" y="180.4" font-size="10.2" font-style="italic">&#945;<tspan font-size="7.6" dy="2.2" font-style="normal">22</tspan><tspan dy="-2.2" dx="2.3">component</tspan></text>
<text x="30" y="285.2" font-size="9" text-anchor="end" textLength="6.9" lengthAdjust="spacingAndGlyphs">-6</text>
<text x="30" y="262.9" font-size="9" text-anchor="end" textLength="4" lengthAdjust="spacingAndGlyphs">0</text>
<text x="30" y="239.1" font-size="9" text-anchor="end" textLength="4" lengthAdjust="spacingAndGlyphs">6</text>
<text x="30" y="215.3" font-size="9" text-anchor="end" textLength="8" lengthAdjust="spacingAndGlyphs">12</text>
<text x="30" y="191.5" font-size="9" text-anchor="end" textLength="8" lengthAdjust="spacingAndGlyphs">18</text>
<text x="30" y="171.7" font-size="9" text-anchor="end" textLength="8" lengthAdjust="spacingAndGlyphs">24</text>
<text x="35.9" y="293.8" font-size="8.6" text-anchor="middle">300</text>
<text x="66.08" y="293.8" font-size="8.6" text-anchor="middle">400</text>
<text x="96.26" y="293.8" font-size="8.6" text-anchor="middle">500</text>
<text x="126.44" y="293.8" font-size="8.6" text-anchor="middle">600</text>
<text x="156.62" y="293.8" font-size="8.6" text-anchor="middle">700</text>
<text x="186.8" y="293.8" font-size="8.6" text-anchor="middle">800</text>
<text x="112.15" y="307.7" font-size="10" text-anchor="middle">Temperature (K)</text>
<text x="107.65" y="318" font-size="10" text-anchor="middle">(b)</text>
<g stroke="#b0b0b0" stroke-width="0.9" stroke-dasharray="1 3.6"><line x1="242.14" y1="164.5" x2="242.14" y2="283.5"/><line x1="272.98" y1="164.5" x2="272.98" y2="283.5"/><line x1="303.82" y1="164.5" x2="303.82" y2="283.5"/><line x1="334.66" y1="164.5" x2="334.66" y2="283.5"/><line x1="211.3" y1="235.9" x2="365.5" y2="235.9"/><line x1="211.3" y1="212.1" x2="365.5" y2="212.1"/><line x1="211.3" y1="188.3" x2="365.5" y2="188.3"/></g>
<rect x="211.8" y="165" width="78" height="21" fill="#fff"/>
<line x1="211.3" y1="259.7" x2="365.5" y2="259.7" stroke="#555" stroke-width="1.1"/>
<path d="M211.3 283.5h3 M211.3 271.6h1.6 M211.3 259.7h3 M211.3 247.8h1.6 M211.3 235.9h3 M211.3 224h1.6 M211.3 212.1h3 M211.3 200.2h1.6 M211.3 188.3h3 M211.3 176.4h1.6 M211.3 164.5h3 M242.14 283.5v-3 M272.98 283.5v-3 M303.82 283.5v-3 M334.66 283.5v-3 M226.72 283.5v-1.6 M257.56 283.5v-1.6 M288.4 283.5v-1.6 M319.24 283.5v-1.6 M350.08 283.5v-1.6" stroke="#555" stroke-width="0.9" fill="none"/>
<clipPath id="cpc"><rect x="211.3" y="164.5" width="154.2" height="119"/></clipPath><g clip-path="url(#cpc)">
<polyline points="211.3,193 242.14,190.8 272.98,189.2 303.82,186.4 334.66,183.2 365.5,180.4" fill="none" stroke="#ff9a45" stroke-width="1.2"/>
<polyline points="211.3,209.2 242.14,208.4 272.98,207.72 303.82,207.2 334.66,206.2 365.5,205.6" fill="none" stroke="#ff4040" stroke-width="1.2"/>
<polyline points="211.3,230.2 242.14,230 272.98,229.6 303.82,229.4 334.66,228.8 365.5,228.8" fill="none" stroke="#c050ff" stroke-width="1.2" stroke-dasharray="3.2 2.4"/>
<polyline points="211.3,226 242.14,224.8 272.98,224 303.82,223 334.66,222 365.5,221.2" fill="none" stroke="#40e040" stroke-width="1.2" stroke-dasharray="3.2 2.4"/>
<polyline points="211.3,272.4 242.14,272.4 272.98,273.2 303.82,273.6 334.66,274.4 365.5,274" fill="none" stroke="#40b8ff" stroke-width="1.2" stroke-dasharray="3.2 2.4"/>
<rect x="209.1" y="190.8" width="4.4" height="4.4" fill="#fff" stroke="#fff" stroke-width="1.3"/><rect x="239.94" y="188.6" width="4.4" height="4.4" fill="#fff" stroke="#fff" stroke-width="1.3"/><rect x="270.78" y="187" width="4.4" height="4.4" fill="#fff" stroke="#fff" stroke-width="1.3"/><rect x="301.62" y="184.2" width="4.4" height="4.4" fill="#fff" stroke="#fff" stroke-width="1.3"/><rect x="332.46" y="181" width="4.4" height="4.4" fill="#fff" stroke="#fff" stroke-width="1.3"/><rect x="363.3" y="178.2" width="4.4" height="4.4" fill="#fff" stroke="#fff" stroke-width="1.3"/>
<circle cx="211.3" cy="209.2" r="2.9" fill="#fff"/><circle cx="242.14" cy="208.4" r="2.9" fill="#fff"/><circle cx="272.98" cy="207.72" r="2.9" fill="#fff"/><circle cx="303.82" cy="207.2" r="2.9" fill="#fff"/><circle cx="334.66" cy="206.2" r="2.9" fill="#fff"/><circle cx="365.5" cy="205.6" r="2.9" fill="#fff"/>
<circle cx="211.3" cy="230.2" r="2.95" fill="#fff"/><circle cx="242.14" cy="230" r="2.95" fill="#fff"/><circle cx="272.98" cy="229.6" r="2.95" fill="#fff"/><circle cx="303.82" cy="229.4" r="2.95" fill="#fff"/><circle cx="334.66" cy="228.8" r="2.95" fill="#fff"/><circle cx="365.5" cy="228.8" r="2.95" fill="#fff"/>
<polygon points="211.3,223.25 208.7,228.15 213.9,228.15" fill="#fff" stroke="#fff" stroke-width="1.5" stroke-linejoin="round"/><polygon points="242.14,222.05 239.54,226.95 244.74,226.95" fill="#fff" stroke="#fff" stroke-width="1.5" stroke-linejoin="round"/><polygon points="272.98,221.25 270.38,226.15 275.58,226.15" fill="#fff" stroke="#fff" stroke-width="1.5" stroke-linejoin="round"/><polygon points="303.82,220.25 301.22,225.15 306.42,225.15" fill="#fff" stroke="#fff" stroke-width="1.5" stroke-linejoin="round"/><polygon points="334.66,219.25 332.06,224.15 337.26,224.15" fill="#fff" stroke="#fff" stroke-width="1.5" stroke-linejoin="round"/><polygon points="365.5,218.45 362.9,223.35 368.1,223.35" fill="#fff" stroke="#fff" stroke-width="1.5" stroke-linejoin="round"/>
<rect x="209.1" y="270.2" width="4.4" height="4.4" fill="#fff" stroke="#fff" stroke-width="1.3"/><rect x="239.94" y="270.2" width="4.4" height="4.4" fill="#fff" stroke="#fff" stroke-width="1.3"/><rect x="270.78" y="271" width="4.4" height="4.4" fill="#fff" stroke="#fff" stroke-width="1.3"/><rect x="301.62" y="271.4" width="4.4" height="4.4" fill="#fff" stroke="#fff" stroke-width="1.3"/><rect x="332.46" y="272.2" width="4.4" height="4.4" fill="#fff" stroke="#fff" stroke-width="1.3"/><rect x="363.3" y="271.8" width="4.4" height="4.4" fill="#fff" stroke="#fff" stroke-width="1.3"/>
<rect x="209.1" y="190.8" width="4.4" height="4.4" fill="#ff7a10" stroke="#e06000" stroke-width="0.35"/><rect x="239.94" y="188.6" width="4.4" height="4.4" fill="#ff7a10" stroke="#e06000" stroke-width="0.35"/><rect x="270.78" y="187" width="4.4" height="4.4" fill="#ff7a10" stroke="#e06000" stroke-width="0.35"/><rect x="301.62" y="184.2" width="4.4" height="4.4" fill="#ff7a10" stroke="#e06000" stroke-width="0.35"/><rect x="332.46" y="181" width="4.4" height="4.4" fill="#ff7a10" stroke="#e06000" stroke-width="0.35"/><rect x="363.3" y="178.2" width="4.4" height="4.4" fill="#ff7a10" stroke="#e06000" stroke-width="0.35"/>
<circle cx="211.3" cy="209.2" r="2.2" fill="#f01010" stroke="#d00000" stroke-width="0.35"/><circle cx="210.7" cy="208.6" r="0.5" fill="#ffe0e0"/><circle cx="242.14" cy="208.4" r="2.2" fill="#f01010" stroke="#d00000" stroke-width="0.35"/><circle cx="241.54" cy="207.8" r="0.5" fill="#ffe0e0"/><circle cx="272.98" cy="207.72" r="2.2" fill="#f01010" stroke="#d00000" stroke-width="0.35"/><circle cx="272.38" cy="207.12" r="0.5" fill="#ffe0e0"/><circle cx="303.82" cy="207.2" r="2.2" fill="#f01010" stroke="#d00000" stroke-width="0.35"/><circle cx="303.22" cy="206.6" r="0.5" fill="#ffe0e0"/><circle cx="334.66" cy="206.2" r="2.2" fill="#f01010" stroke="#d00000" stroke-width="0.35"/><circle cx="334.06" cy="205.6" r="0.5" fill="#ffe0e0"/><circle cx="365.5" cy="205.6" r="2.2" fill="#f01010" stroke="#d00000" stroke-width="0.35"/><circle cx="364.9" cy="205" r="0.5" fill="#ffe0e0"/>
<circle cx="211.3" cy="230.2" r="1.75" fill="#fff" stroke="#a020e8" stroke-width="1.15"/><circle cx="242.14" cy="230" r="1.75" fill="#fff" stroke="#a020e8" stroke-width="1.15"/><circle cx="272.98" cy="229.6" r="1.75" fill="#fff" stroke="#a020e8" stroke-width="1.15"/><circle cx="303.82" cy="229.4" r="1.75" fill="#fff" stroke="#a020e8" stroke-width="1.15"/><circle cx="334.66" cy="228.8" r="1.75" fill="#fff" stroke="#a020e8" stroke-width="1.15"/><circle cx="365.5" cy="228.8" r="1.75" fill="#fff" stroke="#a020e8" stroke-width="1.15"/>
<polygon points="211.3,223.25 208.7,228.15 213.9,228.15" fill="#10dd10" stroke="#00bb00" stroke-width="0.35" stroke-linejoin="round"/><polygon points="242.14,222.05 239.54,226.95 244.74,226.95" fill="#10dd10" stroke="#00bb00" stroke-width="0.35" stroke-linejoin="round"/><polygon points="272.98,221.25 270.38,226.15 275.58,226.15" fill="#10dd10" stroke="#00bb00" stroke-width="0.35" stroke-linejoin="round"/><polygon points="303.82,220.25 301.22,225.15 306.42,225.15" fill="#10dd10" stroke="#00bb00" stroke-width="0.35" stroke-linejoin="round"/><polygon points="334.66,219.25 332.06,224.15 337.26,224.15" fill="#10dd10" stroke="#00bb00" stroke-width="0.35" stroke-linejoin="round"/><polygon points="365.5,218.45 362.9,223.35 368.1,223.35" fill="#10dd10" stroke="#00bb00" stroke-width="0.35" stroke-linejoin="round"/>
<rect x="209.1" y="270.2" width="4.4" height="4.4" fill="#1898f0" stroke="#0a80d8" stroke-width="0.35"/><rect x="239.94" y="270.2" width="4.4" height="4.4" fill="#1898f0" stroke="#0a80d8" stroke-width="0.35"/><rect x="270.78" y="271" width="4.4" height="4.4" fill="#1898f0" stroke="#0a80d8" stroke-width="0.35"/><rect x="301.62" y="271.4" width="4.4" height="4.4" fill="#1898f0" stroke="#0a80d8" stroke-width="0.35"/><rect x="332.46" y="272.2" width="4.4" height="4.4" fill="#1898f0" stroke="#0a80d8" stroke-width="0.35"/><rect x="363.3" y="271.8" width="4.4" height="4.4" fill="#1898f0" stroke="#0a80d8" stroke-width="0.35"/>
</g>
<rect x="211.3" y="164.5" width="154.2" height="119" fill="none" stroke="#505050" stroke-width="1"/>
<text x="224.9" y="180.4" font-size="10.2" font-style="italic">&#945;<tspan font-size="7.6" dy="2.2" font-style="normal">22</tspan><tspan dy="-2.2" dx="2.3">component</tspan></text>
<text x="206.8" y="285.2" font-size="9" text-anchor="end" textLength="6.9" lengthAdjust="spacingAndGlyphs">-6</text>
<text x="206.8" y="262.9" font-size="9" text-anchor="end" textLength="4" lengthAdjust="spacingAndGlyphs">0</text>
<text x="206.8" y="239.1" font-size="9" text-anchor="end" textLength="4" lengthAdjust="spacingAndGlyphs">6</text>
<text x="206.8" y="215.3" font-size="9" text-anchor="end" textLength="8" lengthAdjust="spacingAndGlyphs">12</text>
<text x="206.8" y="191.5" font-size="9" text-anchor="end" textLength="8" lengthAdjust="spacingAndGlyphs">18</text>
<text x="206.8" y="171.7" font-size="9" text-anchor="end" textLength="8" lengthAdjust="spacingAndGlyphs">24</text>
<text x="212.7" y="293.8" font-size="8.6" text-anchor="middle">300</text>
<text x="242.86" y="293.8" font-size="8.6" text-anchor="middle">400</text>
<text x="273.02" y="293.8" font-size="8.6" text-anchor="middle">500</text>
<text x="303.18" y="293.8" font-size="8.6" text-anchor="middle">600</text>
<text x="333.34" y="293.8" font-size="8.6" text-anchor="middle">700</text>
<text x="363.5" y="293.8" font-size="8.6" text-anchor="middle">800</text>
<text x="288.9" y="307.7" font-size="10" text-anchor="middle">Temperature (K)</text>
<text x="284.4" y="318" font-size="10" text-anchor="middle">(c)</text>
<g stroke="#b0b0b0" stroke-width="0.9" stroke-dasharray="1 3.6"><line x1="417.14" y1="164.5" x2="417.14" y2="283.5"/><line x1="447.98" y1="164.5" x2="447.98" y2="283.5"/><line x1="478.82" y1="164.5" x2="478.82" y2="283.5"/><line x1="509.66" y1="164.5" x2="509.66" y2="283.5"/><line x1="386.3" y1="235.9" x2="540.5" y2="235.9"/><line x1="386.3" y1="212.1" x2="540.5" y2="212.1"/><line x1="386.3" y1="188.3" x2="540.5" y2="188.3"/></g>
<rect x="386.8" y="165" width="78" height="21" fill="#fff"/>
<line x1="386.3" y1="259.7" x2="540.5" y2="259.7" stroke="#555" stroke-width="1.1"/>
<path d="M386.3 283.5h3 M386.3 271.6h1.6 M386.3 259.7h3 M386.3 247.8h1.6 M386.3 235.9h3 M386.3 224h1.6 M386.3 212.1h3 M386.3 200.2h1.6 M386.3 188.3h3 M386.3 176.4h1.6 M386.3 164.5h3 M417.14 283.5v-3 M447.98 283.5v-3 M478.82 283.5v-3 M509.66 283.5v-3 M401.72 283.5v-1.6 M432.56 283.5v-1.6 M463.4 283.5v-1.6 M494.24 283.5v-1.6 M525.08 283.5v-1.6" stroke="#555" stroke-width="0.9" fill="none"/>
<clipPath id="cpd"><rect x="386.3" y="164.5" width="154.2" height="119"/></clipPath><g clip-path="url(#cpd)">
<polyline points="386.3,193 417.14,190.8 447.98,189.2 478.82,186.4 509.66,183.2 540.5,180.4" fill="none" stroke="#ff9a45" stroke-width="1.2"/>
<polyline points="386.3,213.2 417.14,212.4 447.98,212.4 478.82,213.2 509.66,214.4 540.5,214.6" fill="none" stroke="#55586a" stroke-width="1.2"/>
<polyline points="386.3,236.2 417.14,236 447.98,236 478.82,236.2 509.66,237.2 540.5,238.6" fill="none" stroke="#c050ff" stroke-width="1.2" stroke-dasharray="3.2 2.4"/>
<polyline points="386.3,219.2 417.14,219.2 447.98,219.2 478.82,219 509.66,216.4 540.5,214.8" fill="none" stroke="#40e040" stroke-width="1.2" stroke-dasharray="3.2 2.4"/>
<polyline points="386.3,276.8 417.14,277.6 447.98,278.8 478.82,279.6 509.66,280.6 540.5,280.8" fill="none" stroke="#40b8ff" stroke-width="1.2" stroke-dasharray="3.2 2.4"/>
<rect x="384.1" y="190.8" width="4.4" height="4.4" fill="#fff" stroke="#fff" stroke-width="1.3"/><rect x="414.94" y="188.6" width="4.4" height="4.4" fill="#fff" stroke="#fff" stroke-width="1.3"/><rect x="445.78" y="187" width="4.4" height="4.4" fill="#fff" stroke="#fff" stroke-width="1.3"/><rect x="476.62" y="184.2" width="4.4" height="4.4" fill="#fff" stroke="#fff" stroke-width="1.3"/><rect x="507.46" y="181" width="4.4" height="4.4" fill="#fff" stroke="#fff" stroke-width="1.3"/><rect x="538.3" y="178.2" width="4.4" height="4.4" fill="#fff" stroke="#fff" stroke-width="1.3"/>
<polygon points="386.3,210.45 383.7,215.35 388.9,215.35" fill="#fff" stroke="#fff" stroke-width="1.5" stroke-linejoin="round"/><polygon points="417.14,209.65 414.54,214.55 419.74,214.55" fill="#fff" stroke="#fff" stroke-width="1.5" stroke-linejoin="round"/><polygon points="447.98,209.65 445.38,214.55 450.58,214.55" fill="#fff" stroke="#fff" stroke-width="1.5" stroke-linejoin="round"/><polygon points="478.82,210.45 476.22,215.35 481.42,215.35" fill="#fff" stroke="#fff" stroke-width="1.5" stroke-linejoin="round"/><polygon points="509.66,211.65 507.06,216.55 512.26,216.55" fill="#fff" stroke="#fff" stroke-width="1.5" stroke-linejoin="round"/><polygon points="540.5,211.85 537.9,216.75 543.1,216.75" fill="#fff" stroke="#fff" stroke-width="1.5" stroke-linejoin="round"/>
<circle cx="386.3" cy="236.2" r="2.95" fill="#fff"/><circle cx="417.14" cy="236" r="2.95" fill="#fff"/><circle cx="447.98" cy="236" r="2.95" fill="#fff"/><circle cx="478.82" cy="236.2" r="2.95" fill="#fff"/><circle cx="509.66" cy="237.2" r="2.95" fill="#fff"/><circle cx="540.5" cy="238.6" r="2.95" fill="#fff"/>
<polygon points="386.3,216.45 383.7,221.35 388.9,221.35" fill="#fff" stroke="#fff" stroke-width="1.5" stroke-linejoin="round"/><polygon points="417.14,216.45 414.54,221.35 419.74,221.35" fill="#fff" stroke="#fff" stroke-width="1.5" stroke-linejoin="round"/><polygon points="447.98,216.45 445.38,221.35 450.58,221.35" fill="#fff" stroke="#fff" stroke-width="1.5" stroke-linejoin="round"/><polygon points="478.82,216.25 476.22,221.15 481.42,221.15" fill="#fff" stroke="#fff" stroke-width="1.5" stroke-linejoin="round"/><polygon points="509.66,213.65 507.06,218.55 512.26,218.55" fill="#fff" stroke="#fff" stroke-width="1.5" stroke-linejoin="round"/><polygon points="540.5,212.05 537.9,216.95 543.1,216.95" fill="#fff" stroke="#fff" stroke-width="1.5" stroke-linejoin="round"/>
<rect x="384.1" y="274.6" width="4.4" height="4.4" fill="#fff" stroke="#fff" stroke-width="1.3"/><rect x="414.94" y="275.4" width="4.4" height="4.4" fill="#fff" stroke="#fff" stroke-width="1.3"/><rect x="445.78" y="276.6" width="4.4" height="4.4" fill="#fff" stroke="#fff" stroke-width="1.3"/><rect x="476.62" y="277.4" width="4.4" height="4.4" fill="#fff" stroke="#fff" stroke-width="1.3"/><rect x="507.46" y="278.4" width="4.4" height="4.4" fill="#fff" stroke="#fff" stroke-width="1.3"/><rect x="538.3" y="278.6" width="4.4" height="4.4" fill="#fff" stroke="#fff" stroke-width="1.3"/>
<rect x="384.1" y="190.8" width="4.4" height="4.4" fill="#ff7a10" stroke="#e06000" stroke-width="0.35"/><rect x="414.94" y="188.6" width="4.4" height="4.4" fill="#ff7a10" stroke="#e06000" stroke-width="0.35"/><rect x="445.78" y="187" width="4.4" height="4.4" fill="#ff7a10" stroke="#e06000" stroke-width="0.35"/><rect x="476.62" y="184.2" width="4.4" height="4.4" fill="#ff7a10" stroke="#e06000" stroke-width="0.35"/><rect x="507.46" y="181" width="4.4" height="4.4" fill="#ff7a10" stroke="#e06000" stroke-width="0.35"/><rect x="538.3" y="178.2" width="4.4" height="4.4" fill="#ff7a10" stroke="#e06000" stroke-width="0.35"/>
<polygon points="386.3,210.45 383.7,215.35 388.9,215.35" fill="#1c2048" stroke="#10142e" stroke-width="0.35" stroke-linejoin="round"/><polygon points="417.14,209.65 414.54,214.55 419.74,214.55" fill="#1c2048" stroke="#10142e" stroke-width="0.35" stroke-linejoin="round"/><polygon points="447.98,209.65 445.38,214.55 450.58,214.55" fill="#1c2048" stroke="#10142e" stroke-width="0.35" stroke-linejoin="round"/><polygon points="478.82,210.45 476.22,215.35 481.42,215.35" fill="#1c2048" stroke="#10142e" stroke-width="0.35" stroke-linejoin="round"/><polygon points="509.66,211.65 507.06,216.55 512.26,216.55" fill="#1c2048" stroke="#10142e" stroke-width="0.35" stroke-linejoin="round"/><polygon points="540.5,211.85 537.9,216.75 543.1,216.75" fill="#1c2048" stroke="#10142e" stroke-width="0.35" stroke-linejoin="round"/>
<circle cx="386.3" cy="236.2" r="1.75" fill="#fff" stroke="#a020e8" stroke-width="1.15"/><circle cx="417.14" cy="236" r="1.75" fill="#fff" stroke="#a020e8" stroke-width="1.15"/><circle cx="447.98" cy="236" r="1.75" fill="#fff" stroke="#a020e8" stroke-width="1.15"/><circle cx="478.82" cy="236.2" r="1.75" fill="#fff" stroke="#a020e8" stroke-width="1.15"/><circle cx="509.66" cy="237.2" r="1.75" fill="#fff" stroke="#a020e8" stroke-width="1.15"/><circle cx="540.5" cy="238.6" r="1.75" fill="#fff" stroke="#a020e8" stroke-width="1.15"/>
<polygon points="386.3,216.45 383.7,221.35 388.9,221.35" fill="#10dd10" stroke="#00bb00" stroke-width="0.35" stroke-linejoin="round"/><polygon points="417.14,216.45 414.54,221.35 419.74,221.35" fill="#10dd10" stroke="#00bb00" stroke-width="0.35" stroke-linejoin="round"/><polygon points="447.98,216.45 445.38,221.35 450.58,221.35" fill="#10dd10" stroke="#00bb00" stroke-width="0.35" stroke-linejoin="round"/><polygon points="478.82,216.25 476.22,221.15 481.42,221.15" fill="#10dd10" stroke="#00bb00" stroke-width="0.35" stroke-linejoin="round"/><polygon points="509.66,213.65 507.06,218.55 512.26,218.55" fill="#10dd10" stroke="#00bb00" stroke-width="0.35" stroke-linejoin="round"/><polygon points="540.5,212.05 537.9,216.95 543.1,216.95" fill="#10dd10" stroke="#00bb00" stroke-width="0.35" stroke-linejoin="round"/>
<rect x="384.1" y="274.6" width="4.4" height="4.4" fill="#1898f0" stroke="#0a80d8" stroke-width="0.35"/><rect x="414.94" y="275.4" width="4.4" height="4.4" fill="#1898f0" stroke="#0a80d8" stroke-width="0.35"/><rect x="445.78" y="276.6" width="4.4" height="4.4" fill="#1898f0" stroke="#0a80d8" stroke-width="0.35"/><rect x="476.62" y="277.4" width="4.4" height="4.4" fill="#1898f0" stroke="#0a80d8" stroke-width="0.35"/><rect x="507.46" y="278.4" width="4.4" height="4.4" fill="#1898f0" stroke="#0a80d8" stroke-width="0.35"/><rect x="538.3" y="278.6" width="4.4" height="4.4" fill="#1898f0" stroke="#0a80d8" stroke-width="0.35"/>
</g>
<rect x="386.3" y="164.5" width="154.2" height="119" fill="none" stroke="#505050" stroke-width="1"/>
<text x="399.9" y="180.4" font-size="10.2" font-style="italic">&#945;<tspan font-size="7.6" dy="2.2" font-style="normal">22</tspan><tspan dy="-2.2" dx="2.3">component</tspan></text>
<text x="381.8" y="285.2" font-size="9" text-anchor="end" textLength="6.9" lengthAdjust="spacingAndGlyphs">-6</text>
<text x="381.8" y="262.9" font-size="9" text-anchor="end" textLength="4" lengthAdjust="spacingAndGlyphs">0</text>
<text x="381.8" y="239.1" font-size="9" text-anchor="end" textLength="4" lengthAdjust="spacingAndGlyphs">6</text>
<text x="381.8" y="215.3" font-size="9" text-anchor="end" textLength="8" lengthAdjust="spacingAndGlyphs">12</text>
<text x="381.8" y="191.5" font-size="9" text-anchor="end" textLength="8" lengthAdjust="spacingAndGlyphs">18</text>
<text x="381.8" y="171.7" font-size="9" text-anchor="end" textLength="8" lengthAdjust="spacingAndGlyphs">24</text>
<text x="387.7" y="293.8" font-size="8.6" text-anchor="middle">300</text>
<text x="417.86" y="293.8" font-size="8.6" text-anchor="middle">400</text>
<text x="448.02" y="293.8" font-size="8.6" text-anchor="middle">500</text>
<text x="478.18" y="293.8" font-size="8.6" text-anchor="middle">600</text>
<text x="508.34" y="293.8" font-size="8.6" text-anchor="middle">700</text>
<text x="538.5" y="293.8" font-size="8.6" text-anchor="middle">800</text>
<text x="463.9" y="307.7" font-size="10" text-anchor="middle">Temperature (K)</text>
<text x="459.4" y="318" font-size="10" text-anchor="middle">(d)</text>
<g stroke="#b0b0b0" stroke-width="0.9" stroke-dasharray="1 3.6"><line x1="65.36" y1="328" x2="65.36" y2="447"/><line x1="96.22" y1="328" x2="96.22" y2="447"/><line x1="127.08" y1="328" x2="127.08" y2="447"/><line x1="157.94" y1="328" x2="157.94" y2="447"/><line x1="34.5" y1="417.25" x2="188.8" y2="417.25"/><line x1="34.5" y1="387.5" x2="188.8" y2="387.5"/><line x1="34.5" y1="357.75" x2="188.8" y2="357.75"/></g>
<rect x="35" y="328.5" width="78" height="21" fill="#fff"/>
<path d="M34.5 447h3 M34.5 432.12h1.6 M34.5 417.25h3 M34.5 402.38h1.6 M34.5 387.5h3 M34.5 372.62h1.6 M34.5 357.75h3 M34.5 342.88h1.6 M34.5 328h3 M65.36 447v-3 M96.22 447v-3 M127.08 447v-3 M157.94 447v-3 M49.93 447v-1.6 M80.79 447v-1.6 M111.65 447v-1.6 M142.51 447v-1.6 M173.37 447v-1.6" stroke="#555" stroke-width="0.9" fill="none"/>
<clipPath id="cpe"><rect x="34.5" y="328" width="154.3" height="119"/></clipPath><g clip-path="url(#cpe)">
<polyline points="34.5,396.68 65.36,394.89 96.22,393.7 127.08,392.21 157.94,389.83 188.8,387.45" fill="none" stroke="#ff9a45" stroke-width="1.2"/>
<polyline points="34.5,370.94 65.36,370.94 96.22,369.16 127.08,366.33 157.94,363.06 188.8,359.78" fill="none" stroke="#3a50ff" stroke-width="1.2"/>
<polyline points="34.5,395.49 65.36,394.89 96.22,393.7 127.08,392.21 157.94,389.83 188.8,385.96" fill="none" stroke="#c050ff" stroke-width="1.2" stroke-dasharray="3.2 2.4"/>
<polyline points="34.5,437.43 65.36,437.13 96.22,436.84 127.08,436.39 157.94,435.65 188.8,435.35" fill="none" stroke="#40e040" stroke-width="1.2" stroke-dasharray="3.2 2.4"/>
<polyline points="34.5,435.65 65.36,435.05 96.22,434.75 127.08,434.16 157.94,434.16 188.8,433.86" fill="none" stroke="#40b8ff" stroke-width="1.2" stroke-dasharray="3.2 2.4"/>
<rect x="32.3" y="394.48" width="4.4" height="4.4" fill="#fff" stroke="#fff" stroke-width="1.3"/><rect x="63.16" y="392.69" width="4.4" height="4.4" fill="#fff" stroke="#fff" stroke-width="1.3"/><rect x="94.02" y="391.5" width="4.4" height="4.4" fill="#fff" stroke="#fff" stroke-width="1.3"/><rect x="124.88" y="390.01" width="4.4" height="4.4" fill="#fff" stroke="#fff" stroke-width="1.3"/><rect x="155.74" y="387.63" width="4.4" height="4.4" fill="#fff" stroke="#fff" stroke-width="1.3"/><rect x="186.6" y="385.25" width="4.4" height="4.4" fill="#fff" stroke="#fff" stroke-width="1.3"/>
<polygon points="34.5,368.19 31.9,373.09 37.1,373.09" fill="#fff" stroke="#fff" stroke-width="1.5" stroke-linejoin="round"/><polygon points="65.36,368.19 62.76,373.09 67.96,373.09" fill="#fff" stroke="#fff" stroke-width="1.5" stroke-linejoin="round"/><polygon points="96.22,366.41 93.62,371.31 98.82,371.31" fill="#fff" stroke="#fff" stroke-width="1.5" stroke-linejoin="round"/><polygon points="127.08,363.58 124.48,368.48 129.68,368.48" fill="#fff" stroke="#fff" stroke-width="1.5" stroke-linejoin="round"/><polygon points="157.94,360.31 155.34,365.21 160.54,365.21" fill="#fff" stroke="#fff" stroke-width="1.5" stroke-linejoin="round"/><polygon points="188.8,357.03 186.2,361.93 191.4,361.93" fill="#fff" stroke="#fff" stroke-width="1.5" stroke-linejoin="round"/>
<circle cx="34.5" cy="395.49" r="2.95" fill="#fff"/><circle cx="65.36" cy="394.89" r="2.95" fill="#fff"/><circle cx="96.22" cy="393.7" r="2.95" fill="#fff"/><circle cx="127.08" cy="392.21" r="2.95" fill="#fff"/><circle cx="157.94" cy="389.83" r="2.95" fill="#fff"/><circle cx="188.8" cy="385.96" r="2.95" fill="#fff"/>
<polygon points="34.5,434.68 31.9,439.58 37.1,439.58" fill="#fff" stroke="#fff" stroke-width="1.5" stroke-linejoin="round"/><polygon points="65.36,434.38 62.76,439.28 67.96,439.28" fill="#fff" stroke="#fff" stroke-width="1.5" stroke-linejoin="round"/><polygon points="96.22,434.09 93.62,438.99 98.82,438.99" fill="#fff" stroke="#fff" stroke-width="1.5" stroke-linejoin="round"/><polygon points="127.08,433.64 124.48,438.54 129.68,438.54" fill="#fff" stroke="#fff" stroke-width="1.5" stroke-linejoin="round"/><polygon points="157.94,432.9 155.34,437.8 160.54,437.8" fill="#fff" stroke="#fff" stroke-width="1.5" stroke-linejoin="round"/><polygon points="188.8,432.6 186.2,437.5 191.4,437.5" fill="#fff" stroke="#fff" stroke-width="1.5" stroke-linejoin="round"/>
<rect x="32.3" y="433.45" width="4.4" height="4.4" fill="#fff" stroke="#fff" stroke-width="1.3"/><rect x="63.16" y="432.85" width="4.4" height="4.4" fill="#fff" stroke="#fff" stroke-width="1.3"/><rect x="94.02" y="432.56" width="4.4" height="4.4" fill="#fff" stroke="#fff" stroke-width="1.3"/><rect x="124.88" y="431.96" width="4.4" height="4.4" fill="#fff" stroke="#fff" stroke-width="1.3"/><rect x="155.74" y="431.96" width="4.4" height="4.4" fill="#fff" stroke="#fff" stroke-width="1.3"/><rect x="186.6" y="431.66" width="4.4" height="4.4" fill="#fff" stroke="#fff" stroke-width="1.3"/>
<rect x="32.3" y="394.48" width="4.4" height="4.4" fill="#ff7a10" stroke="#e06000" stroke-width="0.35"/><rect x="63.16" y="392.69" width="4.4" height="4.4" fill="#ff7a10" stroke="#e06000" stroke-width="0.35"/><rect x="94.02" y="391.5" width="4.4" height="4.4" fill="#ff7a10" stroke="#e06000" stroke-width="0.35"/><rect x="124.88" y="390.01" width="4.4" height="4.4" fill="#ff7a10" stroke="#e06000" stroke-width="0.35"/><rect x="155.74" y="387.63" width="4.4" height="4.4" fill="#ff7a10" stroke="#e06000" stroke-width="0.35"/><rect x="186.6" y="385.25" width="4.4" height="4.4" fill="#ff7a10" stroke="#e06000" stroke-width="0.35"/>
<polygon points="34.5,368.19 31.9,373.09 37.1,373.09" fill="#0010e8" stroke="#0000c0" stroke-width="0.35" stroke-linejoin="round"/><polygon points="65.36,368.19 62.76,373.09 67.96,373.09" fill="#0010e8" stroke="#0000c0" stroke-width="0.35" stroke-linejoin="round"/><polygon points="96.22,366.41 93.62,371.31 98.82,371.31" fill="#0010e8" stroke="#0000c0" stroke-width="0.35" stroke-linejoin="round"/><polygon points="127.08,363.58 124.48,368.48 129.68,368.48" fill="#0010e8" stroke="#0000c0" stroke-width="0.35" stroke-linejoin="round"/><polygon points="157.94,360.31 155.34,365.21 160.54,365.21" fill="#0010e8" stroke="#0000c0" stroke-width="0.35" stroke-linejoin="round"/><polygon points="188.8,357.03 186.2,361.93 191.4,361.93" fill="#0010e8" stroke="#0000c0" stroke-width="0.35" stroke-linejoin="round"/>
<circle cx="34.5" cy="395.49" r="1.75" fill="none" stroke="#a020e8" stroke-width="1.15"/><circle cx="65.36" cy="394.89" r="1.75" fill="none" stroke="#a020e8" stroke-width="1.15"/><circle cx="96.22" cy="393.7" r="1.75" fill="none" stroke="#a020e8" stroke-width="1.15"/><circle cx="127.08" cy="392.21" r="1.75" fill="none" stroke="#a020e8" stroke-width="1.15"/><circle cx="157.94" cy="389.83" r="1.75" fill="none" stroke="#a020e8" stroke-width="1.15"/><circle cx="188.8" cy="385.96" r="1.75" fill="none" stroke="#a020e8" stroke-width="1.15"/>
<polygon points="34.5,434.68 31.9,439.58 37.1,439.58" fill="#10dd10" stroke="#00bb00" stroke-width="0.35" stroke-linejoin="round"/><polygon points="65.36,434.38 62.76,439.28 67.96,439.28" fill="#10dd10" stroke="#00bb00" stroke-width="0.35" stroke-linejoin="round"/><polygon points="96.22,434.09 93.62,438.99 98.82,438.99" fill="#10dd10" stroke="#00bb00" stroke-width="0.35" stroke-linejoin="round"/><polygon points="127.08,433.64 124.48,438.54 129.68,438.54" fill="#10dd10" stroke="#00bb00" stroke-width="0.35" stroke-linejoin="round"/><polygon points="157.94,432.9 155.34,437.8 160.54,437.8" fill="#10dd10" stroke="#00bb00" stroke-width="0.35" stroke-linejoin="round"/><polygon points="188.8,432.6 186.2,437.5 191.4,437.5" fill="#10dd10" stroke="#00bb00" stroke-width="0.35" stroke-linejoin="round"/>
<rect x="32.3" y="433.45" width="4.4" height="4.4" fill="#1898f0" stroke="#0a80d8" stroke-width="0.35"/><rect x="63.16" y="432.85" width="4.4" height="4.4" fill="#1898f0" stroke="#0a80d8" stroke-width="0.35"/><rect x="94.02" y="432.56" width="4.4" height="4.4" fill="#1898f0" stroke="#0a80d8" stroke-width="0.35"/><rect x="124.88" y="431.96" width="4.4" height="4.4" fill="#1898f0" stroke="#0a80d8" stroke-width="0.35"/><rect x="155.74" y="431.96" width="4.4" height="4.4" fill="#1898f0" stroke="#0a80d8" stroke-width="0.35"/><rect x="186.6" y="431.66" width="4.4" height="4.4" fill="#1898f0" stroke="#0a80d8" stroke-width="0.35"/>
</g>
<rect x="34.5" y="328" width="154.3" height="119" fill="none" stroke="#505050" stroke-width="1"/>
<text x="48.1" y="343.9" font-size="10.2" font-style="italic">&#945;<tspan font-size="7.6" dy="2.2" font-style="normal">33</tspan><tspan dy="-2.2" dx="2.3">component</tspan></text>
<text x="30" y="447.7" font-size="9" text-anchor="end" textLength="4" lengthAdjust="spacingAndGlyphs">0</text>
<text x="30" y="420.45" font-size="9" text-anchor="end" textLength="8" lengthAdjust="spacingAndGlyphs">10</text>
<text x="30" y="390.7" font-size="9" text-anchor="end" textLength="8" lengthAdjust="spacingAndGlyphs">20</text>
<text x="30" y="360.95" font-size="9" text-anchor="end" textLength="8" lengthAdjust="spacingAndGlyphs">30</text>
<text x="30" y="335.2" font-size="9" text-anchor="end" textLength="8" lengthAdjust="spacingAndGlyphs">40</text>
<text x="35.9" y="457.3" font-size="8.6" text-anchor="middle">300</text>
<text x="66.08" y="457.3" font-size="8.6" text-anchor="middle">400</text>
<text x="96.26" y="457.3" font-size="8.6" text-anchor="middle">500</text>
<text x="126.44" y="457.3" font-size="8.6" text-anchor="middle">600</text>
<text x="156.62" y="457.3" font-size="8.6" text-anchor="middle">700</text>
<text x="186.8" y="457.3" font-size="8.6" text-anchor="middle">800</text>
<text x="112.15" y="471.2" font-size="10" text-anchor="middle">Temperature (K)</text>
<text x="107.65" y="481.5" font-size="10" text-anchor="middle">(e)</text>
<g stroke="#b0b0b0" stroke-width="0.9" stroke-dasharray="1 3.6"><line x1="242.14" y1="328" x2="242.14" y2="447"/><line x1="272.98" y1="328" x2="272.98" y2="447"/><line x1="303.82" y1="328" x2="303.82" y2="447"/><line x1="334.66" y1="328" x2="334.66" y2="447"/><line x1="211.3" y1="417.25" x2="365.5" y2="417.25"/><line x1="211.3" y1="387.5" x2="365.5" y2="387.5"/><line x1="211.3" y1="357.75" x2="365.5" y2="357.75"/></g>
<rect x="211.8" y="328.5" width="78" height="21" fill="#fff"/>
<path d="M211.3 447h3 M211.3 432.12h1.6 M211.3 417.25h3 M211.3 402.38h1.6 M211.3 387.5h3 M211.3 372.62h1.6 M211.3 357.75h3 M211.3 342.88h1.6 M211.3 328h3 M242.14 447v-3 M272.98 447v-3 M303.82 447v-3 M334.66 447v-3 M226.72 447v-1.6 M257.56 447v-1.6 M288.4 447v-1.6 M319.24 447v-1.6 M350.08 447v-1.6" stroke="#555" stroke-width="0.9" fill="none"/>
<clipPath id="cpf"><rect x="211.3" y="328" width="154.2" height="119"/></clipPath><g clip-path="url(#cpf)">
<polyline points="211.3,397.57 242.14,396.08 272.98,394.59 303.82,392.51 334.66,390.43 365.5,388.05" fill="none" stroke="#ff9a45" stroke-width="1.2"/>
<polyline points="211.3,361.27 242.14,359.78 272.98,358 303.82,354.73 334.66,350.86 365.5,346.99" fill="none" stroke="#ff4040" stroke-width="1.2"/>
<polyline points="211.3,399.8 242.14,398.01 272.98,395.93 303.82,394.44 334.66,392.66 365.5,390.28" fill="none" stroke="#c050ff" stroke-width="1.2" stroke-dasharray="3.2 2.4"/>
<polyline points="211.3,429.1 242.14,428.81 272.98,428.51 303.82,428.06 334.66,427.76 365.5,427.32" fill="none" stroke="#40e040" stroke-width="1.2" stroke-dasharray="3.2 2.4"/>
<polyline points="211.3,426.43 242.14,426.28 272.98,426.28 303.82,425.98 334.66,425.68 365.5,425.53" fill="none" stroke="#40b8ff" stroke-width="1.2" stroke-dasharray="3.2 2.4"/>
<rect x="209.1" y="395.37" width="4.4" height="4.4" fill="#fff" stroke="#fff" stroke-width="1.3"/><rect x="239.94" y="393.88" width="4.4" height="4.4" fill="#fff" stroke="#fff" stroke-width="1.3"/><rect x="270.78" y="392.39" width="4.4" height="4.4" fill="#fff" stroke="#fff" stroke-width="1.3"/><rect x="301.62" y="390.31" width="4.4" height="4.4" fill="#fff" stroke="#fff" stroke-width="1.3"/><rect x="332.46" y="388.23" width="4.4" height="4.4" fill="#fff" stroke="#fff" stroke-width="1.3"/><rect x="363.3" y="385.85" width="4.4" height="4.4" fill="#fff" stroke="#fff" stroke-width="1.3"/>
<circle cx="211.3" cy="361.27" r="2.9" fill="#fff"/><circle cx="242.14" cy="359.78" r="2.9" fill="#fff"/><circle cx="272.98" cy="358" r="2.9" fill="#fff"/><circle cx="303.82" cy="354.73" r="2.9" fill="#fff"/><circle cx="334.66" cy="350.86" r="2.9" fill="#fff"/><circle cx="365.5" cy="346.99" r="2.9" fill="#fff"/>
<circle cx="211.3" cy="399.8" r="2.95" fill="#fff"/><circle cx="242.14" cy="398.01" r="2.95" fill="#fff"/><circle cx="272.98" cy="395.93" r="2.95" fill="#fff"/><circle cx="303.82" cy="394.44" r="2.95" fill="#fff"/><circle cx="334.66" cy="392.66" r="2.95" fill="#fff"/><circle cx="365.5" cy="390.28" r="2.95" fill="#fff"/>
<polygon points="211.3,426.35 208.7,431.25 213.9,431.25" fill="#fff" stroke="#fff" stroke-width="1.5" stroke-linejoin="round"/><polygon points="242.14,426.06 239.54,430.95 244.74,430.95" fill="#fff" stroke="#fff" stroke-width="1.5" stroke-linejoin="round"/><polygon points="272.98,425.76 270.38,430.66 275.58,430.66" fill="#fff" stroke="#fff" stroke-width="1.5" stroke-linejoin="round"/><polygon points="303.82,425.31 301.22,430.21 306.42,430.21" fill="#fff" stroke="#fff" stroke-width="1.5" stroke-linejoin="round"/><polygon points="334.66,425.01 332.06,429.91 337.26,429.91" fill="#fff" stroke="#fff" stroke-width="1.5" stroke-linejoin="round"/><polygon points="365.5,424.57 362.9,429.47 368.1,429.47" fill="#fff" stroke="#fff" stroke-width="1.5" stroke-linejoin="round"/>
<rect x="209.1" y="424.23" width="4.4" height="4.4" fill="#fff" stroke="#fff" stroke-width="1.3"/><rect x="239.94" y="424.08" width="4.4" height="4.4" fill="#fff" stroke="#fff" stroke-width="1.3"/><rect x="270.78" y="424.08" width="4.4" height="4.4" fill="#fff" stroke="#fff" stroke-width="1.3"/><rect x="301.62" y="423.78" width="4.4" height="4.4" fill="#fff" stroke="#fff" stroke-width="1.3"/><rect x="332.46" y="423.48" width="4.4" height="4.4" fill="#fff" stroke="#fff" stroke-width="1.3"/><rect x="363.3" y="423.33" width="4.4" height="4.4" fill="#fff" stroke="#fff" stroke-width="1.3"/>
<rect x="209.1" y="395.37" width="4.4" height="4.4" fill="#ff7a10" stroke="#e06000" stroke-width="0.35"/><rect x="239.94" y="393.88" width="4.4" height="4.4" fill="#ff7a10" stroke="#e06000" stroke-width="0.35"/><rect x="270.78" y="392.39" width="4.4" height="4.4" fill="#ff7a10" stroke="#e06000" stroke-width="0.35"/><rect x="301.62" y="390.31" width="4.4" height="4.4" fill="#ff7a10" stroke="#e06000" stroke-width="0.35"/><rect x="332.46" y="388.23" width="4.4" height="4.4" fill="#ff7a10" stroke="#e06000" stroke-width="0.35"/><rect x="363.3" y="385.85" width="4.4" height="4.4" fill="#ff7a10" stroke="#e06000" stroke-width="0.35"/>
<circle cx="211.3" cy="361.27" r="2.2" fill="#f01010" stroke="#d00000" stroke-width="0.35"/><circle cx="210.7" cy="360.67" r="0.5" fill="#ffe0e0"/><circle cx="242.14" cy="359.78" r="2.2" fill="#f01010" stroke="#d00000" stroke-width="0.35"/><circle cx="241.54" cy="359.18" r="0.5" fill="#ffe0e0"/><circle cx="272.98" cy="358" r="2.2" fill="#f01010" stroke="#d00000" stroke-width="0.35"/><circle cx="272.38" cy="357.4" r="0.5" fill="#ffe0e0"/><circle cx="303.82" cy="354.73" r="2.2" fill="#f01010" stroke="#d00000" stroke-width="0.35"/><circle cx="303.22" cy="354.13" r="0.5" fill="#ffe0e0"/><circle cx="334.66" cy="350.86" r="2.2" fill="#f01010" stroke="#d00000" stroke-width="0.35"/><circle cx="334.06" cy="350.26" r="0.5" fill="#ffe0e0"/><circle cx="365.5" cy="346.99" r="2.2" fill="#f01010" stroke="#d00000" stroke-width="0.35"/><circle cx="364.9" cy="346.39" r="0.5" fill="#ffe0e0"/>
<circle cx="211.3" cy="399.8" r="1.75" fill="#fff" stroke="#a020e8" stroke-width="1.15"/><circle cx="242.14" cy="398.01" r="1.75" fill="#fff" stroke="#a020e8" stroke-width="1.15"/><circle cx="272.98" cy="395.93" r="1.75" fill="#fff" stroke="#a020e8" stroke-width="1.15"/><circle cx="303.82" cy="394.44" r="1.75" fill="#fff" stroke="#a020e8" stroke-width="1.15"/><circle cx="334.66" cy="392.66" r="1.75" fill="#fff" stroke="#a020e8" stroke-width="1.15"/><circle cx="365.5" cy="390.28" r="1.75" fill="#fff" stroke="#a020e8" stroke-width="1.15"/>
<polygon points="211.3,426.35 208.7,431.25 213.9,431.25" fill="#10dd10" stroke="#00bb00" stroke-width="0.35" stroke-linejoin="round"/><polygon points="242.14,426.06 239.54,430.95 244.74,430.95" fill="#10dd10" stroke="#00bb00" stroke-width="0.35" stroke-linejoin="round"/><polygon points="272.98,425.76 270.38,430.66 275.58,430.66" fill="#10dd10" stroke="#00bb00" stroke-width="0.35" stroke-linejoin="round"/><polygon points="303.82,425.31 301.22,430.21 306.42,430.21" fill="#10dd10" stroke="#00bb00" stroke-width="0.35" stroke-linejoin="round"/><polygon points="334.66,425.01 332.06,429.91 337.26,429.91" fill="#10dd10" stroke="#00bb00" stroke-width="0.35" stroke-linejoin="round"/><polygon points="365.5,424.57 362.9,429.47 368.1,429.47" fill="#10dd10" stroke="#00bb00" stroke-width="0.35" stroke-linejoin="round"/>
<rect x="209.1" y="424.23" width="4.4" height="4.4" fill="#1898f0" stroke="#0a80d8" stroke-width="0.35"/><rect x="239.94" y="424.08" width="4.4" height="4.4" fill="#1898f0" stroke="#0a80d8" stroke-width="0.35"/><rect x="270.78" y="424.08" width="4.4" height="4.4" fill="#1898f0" stroke="#0a80d8" stroke-width="0.35"/><rect x="301.62" y="423.78" width="4.4" height="4.4" fill="#1898f0" stroke="#0a80d8" stroke-width="0.35"/><rect x="332.46" y="423.48" width="4.4" height="4.4" fill="#1898f0" stroke="#0a80d8" stroke-width="0.35"/><rect x="363.3" y="423.33" width="4.4" height="4.4" fill="#1898f0" stroke="#0a80d8" stroke-width="0.35"/>
</g>
<rect x="211.3" y="328" width="154.2" height="119" fill="none" stroke="#505050" stroke-width="1"/>
<text x="224.9" y="343.9" font-size="10.2" font-style="italic">&#945;<tspan font-size="7.6" dy="2.2" font-style="normal">33</tspan><tspan dy="-2.2" dx="2.3">component</tspan></text>
<text x="206.8" y="447.7" font-size="9" text-anchor="end" textLength="4" lengthAdjust="spacingAndGlyphs">0</text>
<text x="206.8" y="420.45" font-size="9" text-anchor="end" textLength="8" lengthAdjust="spacingAndGlyphs">10</text>
<text x="206.8" y="390.7" font-size="9" text-anchor="end" textLength="8" lengthAdjust="spacingAndGlyphs">20</text>
<text x="206.8" y="360.95" font-size="9" text-anchor="end" textLength="8" lengthAdjust="spacingAndGlyphs">30</text>
<text x="206.8" y="335.2" font-size="9" text-anchor="end" textLength="8" lengthAdjust="spacingAndGlyphs">40</text>
<text x="212.7" y="457.3" font-size="8.6" text-anchor="middle">300</text>
<text x="242.86" y="457.3" font-size="8.6" text-anchor="middle">400</text>
<text x="273.02" y="457.3" font-size="8.6" text-anchor="middle">500</text>
<text x="303.18" y="457.3" font-size="8.6" text-anchor="middle">600</text>
<text x="333.34" y="457.3" font-size="8.6" text-anchor="middle">700</text>
<text x="363.5" y="457.3" font-size="8.6" text-anchor="middle">800</text>
<text x="288.9" y="471.2" font-size="10" text-anchor="middle">Temperature (K)</text>
<text x="284.4" y="481.5" font-size="10" text-anchor="middle">(f)</text>
<g stroke="#b0b0b0" stroke-width="0.9" stroke-dasharray="1 3.6"><line x1="417.14" y1="328" x2="417.14" y2="447"/><line x1="447.98" y1="328" x2="447.98" y2="447"/><line x1="478.82" y1="328" x2="478.82" y2="447"/><line x1="509.66" y1="328" x2="509.66" y2="447"/><line x1="386.3" y1="417.25" x2="540.5" y2="417.25"/><line x1="386.3" y1="387.5" x2="540.5" y2="387.5"/><line x1="386.3" y1="357.75" x2="540.5" y2="357.75"/></g>
<rect x="386.8" y="328.5" width="78" height="21" fill="#fff"/>
<path d="M386.3 447h3 M386.3 432.12h1.6 M386.3 417.25h3 M386.3 402.38h1.6 M386.3 387.5h3 M386.3 372.62h1.6 M386.3 357.75h3 M386.3 342.88h1.6 M386.3 328h3 M417.14 447v-3 M447.98 447v-3 M478.82 447v-3 M509.66 447v-3 M401.72 447v-1.6 M432.56 447v-1.6 M463.4 447v-1.6 M494.24 447v-1.6 M525.08 447v-1.6" stroke="#555" stroke-width="0.9" fill="none"/>
<clipPath id="cpg"><rect x="386.3" y="328" width="154.2" height="119"/></clipPath><g clip-path="url(#cpg)">
<polyline points="386.3,397.27 417.14,395.49 447.98,394 478.82,391.91 509.66,389.83 540.5,387.45" fill="none" stroke="#ff9a45" stroke-width="1.2"/>
<polyline points="386.3,357.4 417.14,355.92 447.98,353.54 478.82,349.97 509.66,345.21 540.5,340.45" fill="none" stroke="#55586a" stroke-width="1.2"/>
<polyline points="386.3,411.4 417.14,409.62 447.98,408.72 478.82,406.34 509.66,402.77 540.5,399.06" fill="none" stroke="#c050ff" stroke-width="1.2" stroke-dasharray="3.2 2.4"/>
<polyline points="386.3,423.15 417.14,424.05 447.98,423.75 478.82,423.15 509.66,421.96 540.5,422.56" fill="none" stroke="#40e040" stroke-width="1.2" stroke-dasharray="3.2 2.4"/>
<polyline points="386.3,417.35 417.14,415.86 447.98,415.27 478.82,413.48 509.66,412.59 540.5,412.29" fill="none" stroke="#40b8ff" stroke-width="1.2" stroke-dasharray="3.2 2.4"/>
<rect x="384.1" y="395.07" width="4.4" height="4.4" fill="#fff" stroke="#fff" stroke-width="1.3"/><rect x="414.94" y="393.29" width="4.4" height="4.4" fill="#fff" stroke="#fff" stroke-width="1.3"/><rect x="445.78" y="391.8" width="4.4" height="4.4" fill="#fff" stroke="#fff" stroke-width="1.3"/><rect x="476.62" y="389.71" width="4.4" height="4.4" fill="#fff" stroke="#fff" stroke-width="1.3"/><rect x="507.46" y="387.63" width="4.4" height="4.4" fill="#fff" stroke="#fff" stroke-width="1.3"/><rect x="538.3" y="385.25" width="4.4" height="4.4" fill="#fff" stroke="#fff" stroke-width="1.3"/>
<polygon points="386.3,354.65 383.7,359.55 388.9,359.55" fill="#fff" stroke="#fff" stroke-width="1.5" stroke-linejoin="round"/><polygon points="417.14,353.17 414.54,358.07 419.74,358.07" fill="#fff" stroke="#fff" stroke-width="1.5" stroke-linejoin="round"/><polygon points="447.98,350.79 445.38,355.69 450.58,355.69" fill="#fff" stroke="#fff" stroke-width="1.5" stroke-linejoin="round"/><polygon points="478.82,347.22 476.22,352.12 481.42,352.12" fill="#fff" stroke="#fff" stroke-width="1.5" stroke-linejoin="round"/><polygon points="509.66,342.46 507.06,347.36 512.26,347.36" fill="#fff" stroke="#fff" stroke-width="1.5" stroke-linejoin="round"/><polygon points="540.5,337.7 537.9,342.6 543.1,342.6" fill="#fff" stroke="#fff" stroke-width="1.5" stroke-linejoin="round"/>
<circle cx="386.3" cy="411.4" r="2.95" fill="#fff"/><circle cx="417.14" cy="409.62" r="2.95" fill="#fff"/><circle cx="447.98" cy="408.72" r="2.95" fill="#fff"/><circle cx="478.82" cy="406.34" r="2.95" fill="#fff"/><circle cx="509.66" cy="402.77" r="2.95" fill="#fff"/><circle cx="540.5" cy="399.06" r="2.95" fill="#fff"/>
<polygon points="386.3,420.4 383.7,425.3 388.9,425.3" fill="#fff" stroke="#fff" stroke-width="1.5" stroke-linejoin="round"/><polygon points="417.14,421.3 414.54,426.19 419.74,426.19" fill="#fff" stroke="#fff" stroke-width="1.5" stroke-linejoin="round"/><polygon points="447.98,421 445.38,425.9 450.58,425.9" fill="#fff" stroke="#fff" stroke-width="1.5" stroke-linejoin="round"/><polygon points="478.82,420.4 476.22,425.3 481.42,425.3" fill="#fff" stroke="#fff" stroke-width="1.5" stroke-linejoin="round"/><polygon points="509.66,419.21 507.06,424.11 512.26,424.11" fill="#fff" stroke="#fff" stroke-width="1.5" stroke-linejoin="round"/><polygon points="540.5,419.81 537.9,424.71 543.1,424.71" fill="#fff" stroke="#fff" stroke-width="1.5" stroke-linejoin="round"/>
<rect x="384.1" y="415.15" width="4.4" height="4.4" fill="#fff" stroke="#fff" stroke-width="1.3"/><rect x="414.94" y="413.66" width="4.4" height="4.4" fill="#fff" stroke="#fff" stroke-width="1.3"/><rect x="445.78" y="413.07" width="4.4" height="4.4" fill="#fff" stroke="#fff" stroke-width="1.3"/><rect x="476.62" y="411.28" width="4.4" height="4.4" fill="#fff" stroke="#fff" stroke-width="1.3"/><rect x="507.46" y="410.39" width="4.4" height="4.4" fill="#fff" stroke="#fff" stroke-width="1.3"/><rect x="538.3" y="410.09" width="4.4" height="4.4" fill="#fff" stroke="#fff" stroke-width="1.3"/>
<rect x="384.1" y="395.07" width="4.4" height="4.4" fill="#ff7a10" stroke="#e06000" stroke-width="0.35"/><rect x="414.94" y="393.29" width="4.4" height="4.4" fill="#ff7a10" stroke="#e06000" stroke-width="0.35"/><rect x="445.78" y="391.8" width="4.4" height="4.4" fill="#ff7a10" stroke="#e06000" stroke-width="0.35"/><rect x="476.62" y="389.71" width="4.4" height="4.4" fill="#ff7a10" stroke="#e06000" stroke-width="0.35"/><rect x="507.46" y="387.63" width="4.4" height="4.4" fill="#ff7a10" stroke="#e06000" stroke-width="0.35"/><rect x="538.3" y="385.25" width="4.4" height="4.4" fill="#ff7a10" stroke="#e06000" stroke-width="0.35"/>
<polygon points="386.3,354.65 383.7,359.55 388.9,359.55" fill="#1c2048" stroke="#10142e" stroke-width="0.35" stroke-linejoin="round"/><polygon points="417.14,353.17 414.54,358.07 419.74,358.07" fill="#1c2048" stroke="#10142e" stroke-width="0.35" stroke-linejoin="round"/><polygon points="447.98,350.79 445.38,355.69 450.58,355.69" fill="#1c2048" stroke="#10142e" stroke-width="0.35" stroke-linejoin="round"/><polygon points="478.82,347.22 476.22,352.12 481.42,352.12" fill="#1c2048" stroke="#10142e" stroke-width="0.35" stroke-linejoin="round"/><polygon points="509.66,342.46 507.06,347.36 512.26,347.36" fill="#1c2048" stroke="#10142e" stroke-width="0.35" stroke-linejoin="round"/><polygon points="540.5,337.7 537.9,342.6 543.1,342.6" fill="#1c2048" stroke="#10142e" stroke-width="0.35" stroke-linejoin="round"/>
<circle cx="386.3" cy="411.4" r="1.75" fill="#fff" stroke="#a020e8" stroke-width="1.15"/><circle cx="417.14" cy="409.62" r="1.75" fill="#fff" stroke="#a020e8" stroke-width="1.15"/><circle cx="447.98" cy="408.72" r="1.75" fill="#fff" stroke="#a020e8" stroke-width="1.15"/><circle cx="478.82" cy="406.34" r="1.75" fill="#fff" stroke="#a020e8" stroke-width="1.15"/><circle cx="509.66" cy="402.77" r="1.75" fill="#fff" stroke="#a020e8" stroke-width="1.15"/><circle cx="540.5" cy="399.06" r="1.75" fill="#fff" stroke="#a020e8" stroke-width="1.15"/>
<polygon points="386.3,420.4 383.7,425.3 388.9,425.3" fill="#10dd10" stroke="#00bb00" stroke-width="0.35" stroke-linejoin="round"/><polygon points="417.14,421.3 414.54,426.19 419.74,426.19" fill="#10dd10" stroke="#00bb00" stroke-width="0.35" stroke-linejoin="round"/><polygon points="447.98,421 445.38,425.9 450.58,425.9" fill="#10dd10" stroke="#00bb00" stroke-width="0.35" stroke-linejoin="round"/><polygon points="478.82,420.4 476.22,425.3 481.42,425.3" fill="#10dd10" stroke="#00bb00" stroke-width="0.35" stroke-linejoin="round"/><polygon points="509.66,419.21 507.06,424.11 512.26,424.11" fill="#10dd10" stroke="#00bb00" stroke-width="0.35" stroke-linejoin="round"/><polygon points="540.5,419.81 537.9,424.71 543.1,424.71" fill="#10dd10" stroke="#00bb00" stroke-width="0.35" stroke-linejoin="round"/>
<rect x="384.1" y="415.15" width="4.4" height="4.4" fill="#1898f0" stroke="#0a80d8" stroke-width="0.35"/><rect x="414.94" y="413.66" width="4.4" height="4.4" fill="#1898f0" stroke="#0a80d8" stroke-width="0.35"/><rect x="445.78" y="413.07" width="4.4" height="4.4" fill="#1898f0" stroke="#0a80d8" stroke-width="0.35"/><rect x="476.62" y="411.28" width="4.4" height="4.4" fill="#1898f0" stroke="#0a80d8" stroke-width="0.35"/><rect x="507.46" y="410.39" width="4.4" height="4.4" fill="#1898f0" stroke="#0a80d8" stroke-width="0.35"/><rect x="538.3" y="410.09" width="4.4" height="4.4" fill="#1898f0" stroke="#0a80d8" stroke-width="0.35"/>
</g>
<rect x="386.3" y="328" width="154.2" height="119" fill="none" stroke="#505050" stroke-width="1"/>
<text x="399.9" y="343.9" font-size="10.2" font-style="italic">&#945;<tspan font-size="7.6" dy="2.2" font-style="normal">33</tspan><tspan dy="-2.2" dx="2.3">component</tspan></text>
<text x="381.8" y="447.7" font-size="9" text-anchor="end" textLength="4" lengthAdjust="spacingAndGlyphs">0</text>
<text x="381.8" y="420.45" font-size="9" text-anchor="end" textLength="8" lengthAdjust="spacingAndGlyphs">10</text>
<text x="381.8" y="390.7" font-size="9" text-anchor="end" textLength="8" lengthAdjust="spacingAndGlyphs">20</text>
<text x="381.8" y="360.95" font-size="9" text-anchor="end" textLength="8" lengthAdjust="spacingAndGlyphs">30</text>
<text x="381.8" y="335.2" font-size="9" text-anchor="end" textLength="8" lengthAdjust="spacingAndGlyphs">40</text>
<text x="387.7" y="457.3" font-size="8.6" text-anchor="middle">300</text>
<text x="417.86" y="457.3" font-size="8.6" text-anchor="middle">400</text>
<text x="448.02" y="457.3" font-size="8.6" text-anchor="middle">500</text>
<text x="478.18" y="457.3" font-size="8.6" text-anchor="middle">600</text>
<text x="508.34" y="457.3" font-size="8.6" text-anchor="middle">700</text>
<text x="538.5" y="457.3" font-size="8.6" text-anchor="middle">800</text>
<text x="463.9" y="471.2" font-size="10" text-anchor="middle">Temperature (K)</text>
<text x="459.4" y="481.5" font-size="10" text-anchor="middle">(g)</text>
</svg></body></html>
